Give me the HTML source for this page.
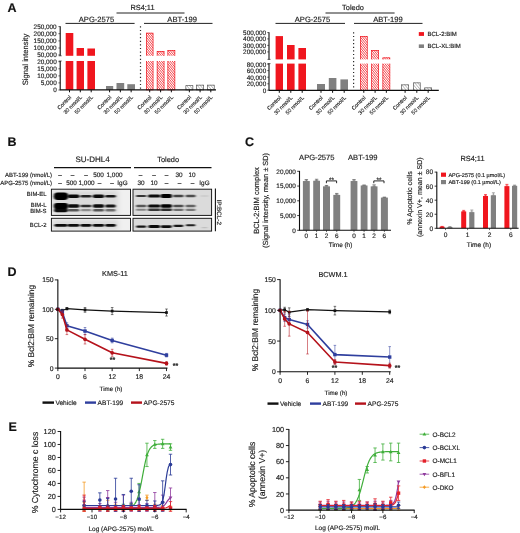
<!DOCTYPE html>
<html lang="en">
<head>
<meta charset="utf-8">
<title>Figure: APG-2575 disrupts BCL-2:BIM complexes</title>
<style>
html,body{margin:0;padding:0;background:#fff;}
body{width:520px;height:533px;overflow:hidden;}
svg{display:block;text-rendering:geometricPrecision;}
text{stroke:#222;stroke-width:0.16px;font-family:"Liberation Sans",Arial,Helvetica,sans-serif;}
</style>
</head>
<body>
<svg width="520" height="533" viewBox="0 0 520 533">
<defs>
<pattern id="hr" width="1.42" height="4" patternUnits="userSpaceOnUse" patternTransform="rotate(-40)">
  <rect width="1.42" height="4" fill="#fff"/><rect width="0.8" height="4" fill="#e8202a"/>
</pattern>
<pattern id="hg" width="1.9" height="4" patternUnits="userSpaceOnUse" patternTransform="rotate(-40)">
  <rect width="1.9" height="4" fill="#fff"/><rect width="0.45" height="4" fill="#777"/>
</pattern>
<filter id="b1" x="-20%" y="-80%" width="140%" height="260%"><feGaussianBlur stdDeviation="0.9 0.55"/></filter>
<filter id="b3" x="-20%" y="-50%" width="140%" height="200%"><feGaussianBlur stdDeviation="2.5 1.5"/></filter>
<filter id="b2" x="-20%" y="-80%" width="140%" height="260%"><feGaussianBlur stdDeviation="0.7 0.45"/></filter>
</defs>
<rect width="520" height="533" fill="#fff"/>
<text x="7.50" y="11.60" font-size="12.5" text-anchor="start" font-weight="bold" fill="#111">A</text>
<text x="142.50" y="9.96" font-size="7.4" text-anchor="middle" font-weight="normal" fill="#222">RS4;11</text>
<line x1="116.50" y1="13.00" x2="184.50" y2="13.00" stroke="#222" stroke-width="1.0"/>
<text x="96.50" y="21.74" font-size="7.6" text-anchor="middle" font-weight="normal" fill="#222">APG-2575</text>
<line x1="65.50" y1="23.40" x2="134.60" y2="23.40" stroke="#222" stroke-width="1.0"/>
<text x="182.10" y="21.74" font-size="7.6" text-anchor="middle" font-weight="normal" fill="#222">ABT-199</text>
<line x1="144.00" y1="23.40" x2="212.50" y2="23.40" stroke="#222" stroke-width="1.0"/>
<rect x="65.70" y="33.00" width="7.60" height="56.90" fill="#f0161e" stroke="none" stroke-width="0.6"/>
<rect x="76.60" y="48.00" width="7.40" height="41.90" fill="#f0161e" stroke="none" stroke-width="0.6"/>
<rect x="87.40" y="48.50" width="7.60" height="41.40" fill="#f0161e" stroke="none" stroke-width="0.6"/>
<rect x="106.00" y="86.00" width="7.20" height="3.90" fill="#808080" stroke="none" stroke-width="0.6"/>
<rect x="116.50" y="83.00" width="7.70" height="6.90" fill="#808080" stroke="none" stroke-width="0.6"/>
<rect x="127.30" y="84.20" width="7.70" height="5.70" fill="#808080" stroke="none" stroke-width="0.6"/>
<clipPath id="hc1"><rect x="146.00" y="32.80" width="7.40" height="57.10"/></clipPath>
<path d="M146.00 23.33L153.40 32.40M146.00 26.03L153.40 35.10M146.00 28.73L153.40 37.80M146.00 31.43L153.40 40.50M146.00 34.13L153.40 43.20M146.00 36.83L153.40 45.90M146.00 39.53L153.40 48.60M146.00 42.23L153.40 51.30M146.00 44.93L153.40 54.00M146.00 47.63L153.40 56.70M146.00 50.33L153.40 59.40M146.00 53.03L153.40 62.10M146.00 55.73L153.40 64.80M146.00 58.43L153.40 67.50M146.00 61.13L153.40 70.20M146.00 63.83L153.40 72.90M146.00 66.53L153.40 75.60M146.00 69.23L153.40 78.30M146.00 71.93L153.40 81.00M146.00 74.63L153.40 83.70M146.00 77.33L153.40 86.40M146.00 80.03L153.40 89.10M146.00 82.73L153.40 91.80M146.00 85.43L153.40 94.50M146.00 88.13L153.40 97.20" stroke="#f0161e" stroke-width="0.8" fill="none" clip-path="url(#hc1)"/>
<rect x="146.35" y="33.15" width="6.70" height="56.75" fill="none" stroke="#f0161e" stroke-width="0.7"/>
<clipPath id="hc2"><rect x="156.80" y="51.00" width="7.60" height="38.90"/></clipPath>
<path d="M156.80 39.28L164.40 48.60M156.80 41.98L164.40 51.30M156.80 44.68L164.40 54.00M156.80 47.38L164.40 56.70M156.80 50.08L164.40 59.40M156.80 52.78L164.40 62.10M156.80 55.48L164.40 64.80M156.80 58.18L164.40 67.50M156.80 60.88L164.40 70.20M156.80 63.58L164.40 72.90M156.80 66.28L164.40 75.60M156.80 68.98L164.40 78.30M156.80 71.68L164.40 81.00M156.80 74.38L164.40 83.70M156.80 77.08L164.40 86.40M156.80 79.78L164.40 89.10M156.80 82.48L164.40 91.80M156.80 85.18L164.40 94.50M156.80 87.88L164.40 97.20" stroke="#f0161e" stroke-width="0.8" fill="none" clip-path="url(#hc2)"/>
<rect x="157.15" y="51.35" width="6.90" height="38.55" fill="none" stroke="#f0161e" stroke-width="0.7"/>
<clipPath id="hc3"><rect x="167.50" y="50.00" width="7.70" height="39.90"/></clipPath>
<path d="M167.50 39.16L175.20 48.60M167.50 41.86L175.20 51.30M167.50 44.56L175.20 54.00M167.50 47.26L175.20 56.70M167.50 49.96L175.20 59.40M167.50 52.66L175.20 62.10M167.50 55.36L175.20 64.80M167.50 58.06L175.20 67.50M167.50 60.76L175.20 70.20M167.50 63.46L175.20 72.90M167.50 66.16L175.20 75.60M167.50 68.86L175.20 78.30M167.50 71.56L175.20 81.00M167.50 74.26L175.20 83.70M167.50 76.96L175.20 86.40M167.50 79.66L175.20 89.10M167.50 82.36L175.20 91.80M167.50 85.06L175.20 94.50M167.50 87.76L175.20 97.20" stroke="#f0161e" stroke-width="0.8" fill="none" clip-path="url(#hc3)"/>
<rect x="167.85" y="50.35" width="7.00" height="39.55" fill="none" stroke="#f0161e" stroke-width="0.7"/>
<clipPath id="hc4"><rect x="185.50" y="85.30" width="7.70" height="4.60"/></clipPath>
<path d="M185.50 73.36L193.20 82.80M185.50 76.96L193.20 86.40M185.50 80.56L193.20 90.00M185.50 84.16L193.20 93.60M185.50 87.76L193.20 97.20" stroke="#6a6a6a" stroke-width="0.5" fill="none" clip-path="url(#hc4)"/>
<rect x="185.85" y="85.65" width="7.00" height="4.25" fill="none" stroke="#5a5a5a" stroke-width="0.7"/>
<clipPath id="hc5"><rect x="196.20" y="84.80" width="7.80" height="5.10"/></clipPath>
<path d="M196.20 73.24L204.00 82.80M196.20 76.84L204.00 86.40M196.20 80.44L204.00 90.00M196.20 84.04L204.00 93.60M196.20 87.64L204.00 97.20" stroke="#6a6a6a" stroke-width="0.5" fill="none" clip-path="url(#hc5)"/>
<rect x="196.55" y="85.15" width="7.10" height="4.75" fill="none" stroke="#5a5a5a" stroke-width="0.7"/>
<clipPath id="hc6"><rect x="207.00" y="84.80" width="7.60" height="5.10"/></clipPath>
<path d="M207.00 73.48L214.60 82.80M207.00 77.08L214.60 86.40M207.00 80.68L214.60 90.00M207.00 84.28L214.60 93.60M207.00 87.88L214.60 97.20" stroke="#6a6a6a" stroke-width="0.5" fill="none" clip-path="url(#hc6)"/>
<rect x="207.35" y="85.15" width="6.90" height="4.75" fill="none" stroke="#5a5a5a" stroke-width="0.7"/>
<rect x="58.20" y="55.80" width="159.80" height="5.20" fill="#fff" stroke="none" stroke-width="0.6"/>
<line x1="60.20" y1="26.20" x2="60.20" y2="55.80" stroke="#0d0d0d" stroke-width="1.1"/>
<line x1="60.20" y1="61.00" x2="60.20" y2="90.30" stroke="#0d0d0d" stroke-width="1.1"/>
<line x1="58.70" y1="55.80" x2="61.70" y2="55.80" stroke="#0d0d0d" stroke-width="0.6"/>
<line x1="58.70" y1="61.00" x2="61.70" y2="61.00" stroke="#0d0d0d" stroke-width="0.6"/>
<line x1="60.20" y1="89.90" x2="216.00" y2="89.90" stroke="#0d0d0d" stroke-width="1.1"/>
<line x1="58.40" y1="26.60" x2="60.20" y2="26.60" stroke="#0d0d0d" stroke-width="0.6"/>
<text x="56.70" y="28.90" font-size="6.4" text-anchor="end" font-weight="normal" fill="#222">250,000</text>
<line x1="58.40" y1="33.70" x2="60.20" y2="33.70" stroke="#0d0d0d" stroke-width="0.6"/>
<text x="56.70" y="36.00" font-size="6.4" text-anchor="end" font-weight="normal" fill="#222">200,000</text>
<line x1="58.40" y1="40.90" x2="60.20" y2="40.90" stroke="#0d0d0d" stroke-width="0.6"/>
<text x="56.70" y="43.20" font-size="6.4" text-anchor="end" font-weight="normal" fill="#222">150,000</text>
<line x1="58.40" y1="48.00" x2="60.20" y2="48.00" stroke="#0d0d0d" stroke-width="0.6"/>
<text x="56.70" y="50.30" font-size="6.4" text-anchor="end" font-weight="normal" fill="#222">100,000</text>
<line x1="58.40" y1="54.90" x2="60.20" y2="54.90" stroke="#0d0d0d" stroke-width="0.6"/>
<text x="56.70" y="57.20" font-size="6.4" text-anchor="end" font-weight="normal" fill="#222">50,000</text>
<line x1="58.40" y1="61.70" x2="60.20" y2="61.70" stroke="#0d0d0d" stroke-width="0.6"/>
<text x="56.70" y="64.00" font-size="6.4" text-anchor="end" font-weight="normal" fill="#222">20,000</text>
<line x1="58.40" y1="68.80" x2="60.20" y2="68.80" stroke="#0d0d0d" stroke-width="0.6"/>
<text x="56.70" y="71.10" font-size="6.4" text-anchor="end" font-weight="normal" fill="#222">15,000</text>
<line x1="58.40" y1="75.90" x2="60.20" y2="75.90" stroke="#0d0d0d" stroke-width="0.6"/>
<text x="56.70" y="78.20" font-size="6.4" text-anchor="end" font-weight="normal" fill="#222">10,000</text>
<line x1="58.40" y1="82.90" x2="60.20" y2="82.90" stroke="#0d0d0d" stroke-width="0.6"/>
<text x="56.70" y="85.20" font-size="6.4" text-anchor="end" font-weight="normal" fill="#222">5,000</text>
<line x1="58.40" y1="90.00" x2="60.20" y2="90.00" stroke="#0d0d0d" stroke-width="0.6"/>
<text x="56.70" y="92.30" font-size="6.4" text-anchor="end" font-weight="normal" fill="#222">0</text>
<line x1="140.50" y1="26.30" x2="140.50" y2="89.00" stroke="#2a2a2a" stroke-width="1.2" stroke-dasharray="1.2 2.4"/>
<line x1="69.50" y1="89.90" x2="69.50" y2="92.30" stroke="#0d0d0d" stroke-width="1.0"/>
<text x="71.70" y="97.70" font-size="5.4" text-anchor="end" font-weight="normal" fill="#222" transform="rotate(-45 71.70 97.70)">Control</text>
<line x1="80.30" y1="89.90" x2="80.30" y2="92.30" stroke="#0d0d0d" stroke-width="1.0"/>
<text x="82.50" y="97.70" font-size="5.4" text-anchor="end" font-weight="normal" fill="#222" transform="rotate(-45 82.50 97.70)">30 nmol/L</text>
<line x1="91.20" y1="89.90" x2="91.20" y2="92.30" stroke="#0d0d0d" stroke-width="1.0"/>
<text x="93.40" y="97.70" font-size="5.4" text-anchor="end" font-weight="normal" fill="#222" transform="rotate(-45 93.40 97.70)">50 nmol/L</text>
<line x1="109.60" y1="89.90" x2="109.60" y2="92.30" stroke="#0d0d0d" stroke-width="1.0"/>
<text x="111.80" y="97.70" font-size="5.4" text-anchor="end" font-weight="normal" fill="#222" transform="rotate(-45 111.80 97.70)">Control</text>
<line x1="120.35" y1="89.90" x2="120.35" y2="92.30" stroke="#0d0d0d" stroke-width="1.0"/>
<text x="122.55" y="97.70" font-size="5.4" text-anchor="end" font-weight="normal" fill="#222" transform="rotate(-45 122.55 97.70)">30 nmol/L</text>
<line x1="131.15" y1="89.90" x2="131.15" y2="92.30" stroke="#0d0d0d" stroke-width="1.0"/>
<text x="133.35" y="97.70" font-size="5.4" text-anchor="end" font-weight="normal" fill="#222" transform="rotate(-45 133.35 97.70)">50 nmol/L</text>
<line x1="149.70" y1="89.90" x2="149.70" y2="92.30" stroke="#0d0d0d" stroke-width="1.0"/>
<text x="151.90" y="97.70" font-size="5.4" text-anchor="end" font-weight="normal" fill="#222" transform="rotate(-45 151.90 97.70)">Control</text>
<line x1="160.60" y1="89.90" x2="160.60" y2="92.30" stroke="#0d0d0d" stroke-width="1.0"/>
<text x="162.80" y="97.70" font-size="5.4" text-anchor="end" font-weight="normal" fill="#222" transform="rotate(-45 162.80 97.70)">30 nmol/L</text>
<line x1="171.35" y1="89.90" x2="171.35" y2="92.30" stroke="#0d0d0d" stroke-width="1.0"/>
<text x="173.55" y="97.70" font-size="5.4" text-anchor="end" font-weight="normal" fill="#222" transform="rotate(-45 173.55 97.70)">50 nmol/L</text>
<line x1="189.35" y1="89.90" x2="189.35" y2="92.30" stroke="#0d0d0d" stroke-width="1.0"/>
<text x="191.55" y="97.70" font-size="5.4" text-anchor="end" font-weight="normal" fill="#222" transform="rotate(-45 191.55 97.70)">Control</text>
<line x1="200.10" y1="89.90" x2="200.10" y2="92.30" stroke="#0d0d0d" stroke-width="1.0"/>
<text x="202.30" y="97.70" font-size="5.4" text-anchor="end" font-weight="normal" fill="#222" transform="rotate(-45 202.30 97.70)">30 nmol/L</text>
<line x1="210.80" y1="89.90" x2="210.80" y2="92.30" stroke="#0d0d0d" stroke-width="1.0"/>
<text x="213.00" y="97.70" font-size="5.4" text-anchor="end" font-weight="normal" fill="#222" transform="rotate(-45 213.00 97.70)">50 nmol/L</text>
<text x="27.50" y="59.50" font-size="7.7" text-anchor="middle" font-weight="normal" fill="#222" transform="rotate(-90 27.50 59.50)">Signal intensity</text>
<text x="353.00" y="9.96" font-size="7.4" text-anchor="middle" font-weight="normal" fill="#222">Toledo</text>
<line x1="325.50" y1="13.00" x2="394.60" y2="13.00" stroke="#222" stroke-width="1.0"/>
<text x="312.50" y="21.74" font-size="7.6" text-anchor="middle" font-weight="normal" fill="#222">APG-2575</text>
<line x1="275.50" y1="23.40" x2="345.00" y2="23.40" stroke="#222" stroke-width="1.0"/>
<text x="388.00" y="21.74" font-size="7.6" text-anchor="middle" font-weight="normal" fill="#222">ABT-199</text>
<line x1="354.00" y1="23.40" x2="422.50" y2="23.40" stroke="#222" stroke-width="1.0"/>
<rect x="275.60" y="36.10" width="7.40" height="54.30" fill="#f0161e" stroke="none" stroke-width="0.6"/>
<rect x="287.00" y="45.00" width="7.60" height="45.40" fill="#f0161e" stroke="none" stroke-width="0.6"/>
<rect x="298.40" y="48.00" width="7.60" height="42.40" fill="#f0161e" stroke="none" stroke-width="0.6"/>
<rect x="317.00" y="84.00" width="8.00" height="6.40" fill="#808080" stroke="none" stroke-width="0.6"/>
<rect x="328.80" y="78.00" width="7.60" height="12.40" fill="#808080" stroke="none" stroke-width="0.6"/>
<rect x="340.40" y="79.40" width="7.60" height="11.00" fill="#808080" stroke="none" stroke-width="0.6"/>
<clipPath id="hc7"><rect x="360.00" y="36.00" width="7.60" height="54.40"/></clipPath>
<path d="M360.00 25.78L367.60 35.10M360.00 28.48L367.60 37.80M360.00 31.18L367.60 40.50M360.00 33.88L367.60 43.20M360.00 36.58L367.60 45.90M360.00 39.28L367.60 48.60M360.00 41.98L367.60 51.30M360.00 44.68L367.60 54.00M360.00 47.38L367.60 56.70M360.00 50.08L367.60 59.40M360.00 52.78L367.60 62.10M360.00 55.48L367.60 64.80M360.00 58.18L367.60 67.50M360.00 60.88L367.60 70.20M360.00 63.58L367.60 72.90M360.00 66.28L367.60 75.60M360.00 68.98L367.60 78.30M360.00 71.68L367.60 81.00M360.00 74.38L367.60 83.70M360.00 77.08L367.60 86.40M360.00 79.78L367.60 89.10M360.00 82.48L367.60 91.80M360.00 85.18L367.60 94.50M360.00 87.88L367.60 97.20" stroke="#f0161e" stroke-width="0.8" fill="none" clip-path="url(#hc7)"/>
<rect x="360.35" y="36.35" width="6.90" height="54.05" fill="none" stroke="#f0161e" stroke-width="0.7"/>
<clipPath id="hc8"><rect x="371.20" y="50.00" width="7.80" height="40.40"/></clipPath>
<path d="M371.20 39.04L379.00 48.60M371.20 41.74L379.00 51.30M371.20 44.44L379.00 54.00M371.20 47.14L379.00 56.70M371.20 49.84L379.00 59.40M371.20 52.54L379.00 62.10M371.20 55.24L379.00 64.80M371.20 57.94L379.00 67.50M371.20 60.64L379.00 70.20M371.20 63.34L379.00 72.90M371.20 66.04L379.00 75.60M371.20 68.74L379.00 78.30M371.20 71.44L379.00 81.00M371.20 74.14L379.00 83.70M371.20 76.84L379.00 86.40M371.20 79.54L379.00 89.10M371.20 82.24L379.00 91.80M371.20 84.94L379.00 94.50M371.20 87.64L379.00 97.20M371.20 90.34L379.00 99.90" stroke="#f0161e" stroke-width="0.8" fill="none" clip-path="url(#hc8)"/>
<rect x="371.55" y="50.35" width="7.10" height="40.05" fill="none" stroke="#f0161e" stroke-width="0.7"/>
<clipPath id="hc9"><rect x="382.50" y="57.50" width="7.70" height="32.90"/></clipPath>
<path d="M382.50 47.26L390.20 56.70M382.50 49.96L390.20 59.40M382.50 52.66L390.20 62.10M382.50 55.36L390.20 64.80M382.50 58.06L390.20 67.50M382.50 60.76L390.20 70.20M382.50 63.46L390.20 72.90M382.50 66.16L390.20 75.60M382.50 68.86L390.20 78.30M382.50 71.56L390.20 81.00M382.50 74.26L390.20 83.70M382.50 76.96L390.20 86.40M382.50 79.66L390.20 89.10M382.50 82.36L390.20 91.80M382.50 85.06L390.20 94.50M382.50 87.76L390.20 97.20" stroke="#f0161e" stroke-width="0.8" fill="none" clip-path="url(#hc9)"/>
<rect x="382.85" y="57.85" width="7.00" height="32.55" fill="none" stroke="#f0161e" stroke-width="0.7"/>
<clipPath id="hc10"><rect x="401.20" y="84.50" width="7.80" height="5.90"/></clipPath>
<path d="M401.20 73.24L409.00 82.80M401.20 76.84L409.00 86.40M401.20 80.44L409.00 90.00M401.20 84.04L409.00 93.60M401.20 87.64L409.00 97.20" stroke="#6a6a6a" stroke-width="0.5" fill="none" clip-path="url(#hc10)"/>
<rect x="401.55" y="84.85" width="7.10" height="5.55" fill="none" stroke="#5a5a5a" stroke-width="0.7"/>
<clipPath id="hc11"><rect x="413.00" y="82.50" width="7.60" height="7.90"/></clipPath>
<path d="M413.00 69.88L420.60 79.20M413.00 73.48L420.60 82.80M413.00 77.08L420.60 86.40M413.00 80.68L420.60 90.00M413.00 84.28L420.60 93.60M413.00 87.88L420.60 97.20" stroke="#6a6a6a" stroke-width="0.5" fill="none" clip-path="url(#hc11)"/>
<rect x="413.35" y="82.85" width="6.90" height="7.55" fill="none" stroke="#5a5a5a" stroke-width="0.7"/>
<clipPath id="hc12"><rect x="424.30" y="87.50" width="7.70" height="2.90"/></clipPath>
<path d="M424.30 76.96L432.00 86.40M424.30 80.56L432.00 90.00M424.30 84.16L432.00 93.60M424.30 87.76L432.00 97.20" stroke="#6a6a6a" stroke-width="0.5" fill="none" clip-path="url(#hc12)"/>
<rect x="424.65" y="87.85" width="7.00" height="2.55" fill="none" stroke="#5a5a5a" stroke-width="0.7"/>
<rect x="267.00" y="59.40" width="173.80" height="4.20" fill="#fff" stroke="none" stroke-width="0.6"/>
<line x1="269.00" y1="32.20" x2="269.00" y2="59.40" stroke="#0d0d0d" stroke-width="1.1"/>
<line x1="269.00" y1="63.60" x2="269.00" y2="90.80" stroke="#0d0d0d" stroke-width="1.1"/>
<line x1="267.50" y1="59.40" x2="270.50" y2="59.40" stroke="#0d0d0d" stroke-width="0.6"/>
<line x1="267.50" y1="63.60" x2="270.50" y2="63.60" stroke="#0d0d0d" stroke-width="0.6"/>
<line x1="269.00" y1="90.40" x2="438.80" y2="90.40" stroke="#0d0d0d" stroke-width="1.1"/>
<line x1="267.20" y1="32.60" x2="269.00" y2="32.60" stroke="#0d0d0d" stroke-width="0.6"/>
<text x="266.20" y="34.90" font-size="6.4" text-anchor="end" font-weight="normal" fill="#222">500,000</text>
<line x1="267.20" y1="38.90" x2="269.00" y2="38.90" stroke="#0d0d0d" stroke-width="0.6"/>
<text x="266.20" y="41.20" font-size="6.4" text-anchor="end" font-weight="normal" fill="#222">400,000</text>
<line x1="267.20" y1="45.40" x2="269.00" y2="45.40" stroke="#0d0d0d" stroke-width="0.6"/>
<text x="266.20" y="47.70" font-size="6.4" text-anchor="end" font-weight="normal" fill="#222">300,000</text>
<line x1="267.20" y1="51.90" x2="269.00" y2="51.90" stroke="#0d0d0d" stroke-width="0.6"/>
<text x="266.20" y="54.20" font-size="6.4" text-anchor="end" font-weight="normal" fill="#222">200,000</text>
<line x1="267.20" y1="64.20" x2="269.00" y2="64.20" stroke="#0d0d0d" stroke-width="0.6"/>
<text x="266.20" y="66.50" font-size="6.4" text-anchor="end" font-weight="normal" fill="#222">80,000</text>
<line x1="267.20" y1="70.60" x2="269.00" y2="70.60" stroke="#0d0d0d" stroke-width="0.6"/>
<text x="266.20" y="72.90" font-size="6.4" text-anchor="end" font-weight="normal" fill="#222">60,000</text>
<line x1="267.20" y1="77.20" x2="269.00" y2="77.20" stroke="#0d0d0d" stroke-width="0.6"/>
<text x="266.20" y="79.50" font-size="6.4" text-anchor="end" font-weight="normal" fill="#222">40,000</text>
<line x1="267.20" y1="83.80" x2="269.00" y2="83.80" stroke="#0d0d0d" stroke-width="0.6"/>
<text x="266.20" y="86.10" font-size="6.4" text-anchor="end" font-weight="normal" fill="#222">20,000</text>
<line x1="267.20" y1="90.20" x2="269.00" y2="90.20" stroke="#0d0d0d" stroke-width="0.6"/>
<text x="266.20" y="92.50" font-size="6.4" text-anchor="end" font-weight="normal" fill="#222">0</text>
<line x1="353.60" y1="32.30" x2="353.60" y2="89.00" stroke="#2a2a2a" stroke-width="1.2" stroke-dasharray="1.2 2.4"/>
<line x1="279.30" y1="90.40" x2="279.30" y2="92.80" stroke="#0d0d0d" stroke-width="1.0"/>
<text x="281.50" y="98.20" font-size="5.4" text-anchor="end" font-weight="normal" fill="#222" transform="rotate(-45 281.50 98.20)">Control</text>
<line x1="290.80" y1="90.40" x2="290.80" y2="92.80" stroke="#0d0d0d" stroke-width="1.0"/>
<text x="293.00" y="98.20" font-size="5.4" text-anchor="end" font-weight="normal" fill="#222" transform="rotate(-45 293.00 98.20)">30 nmol/L</text>
<line x1="302.20" y1="90.40" x2="302.20" y2="92.80" stroke="#0d0d0d" stroke-width="1.0"/>
<text x="304.40" y="98.20" font-size="5.4" text-anchor="end" font-weight="normal" fill="#222" transform="rotate(-45 304.40 98.20)">50 nmol/L</text>
<line x1="321.00" y1="90.40" x2="321.00" y2="92.80" stroke="#0d0d0d" stroke-width="1.0"/>
<text x="323.20" y="98.20" font-size="5.4" text-anchor="end" font-weight="normal" fill="#222" transform="rotate(-45 323.20 98.20)">Control</text>
<line x1="332.60" y1="90.40" x2="332.60" y2="92.80" stroke="#0d0d0d" stroke-width="1.0"/>
<text x="334.80" y="98.20" font-size="5.4" text-anchor="end" font-weight="normal" fill="#222" transform="rotate(-45 334.80 98.20)">30 nmol/L</text>
<line x1="344.20" y1="90.40" x2="344.20" y2="92.80" stroke="#0d0d0d" stroke-width="1.0"/>
<text x="346.40" y="98.20" font-size="5.4" text-anchor="end" font-weight="normal" fill="#222" transform="rotate(-45 346.40 98.20)">50 nmol/L</text>
<line x1="363.80" y1="90.40" x2="363.80" y2="92.80" stroke="#0d0d0d" stroke-width="1.0"/>
<text x="366.00" y="98.20" font-size="5.4" text-anchor="end" font-weight="normal" fill="#222" transform="rotate(-45 366.00 98.20)">Control</text>
<line x1="375.10" y1="90.40" x2="375.10" y2="92.80" stroke="#0d0d0d" stroke-width="1.0"/>
<text x="377.30" y="98.20" font-size="5.4" text-anchor="end" font-weight="normal" fill="#222" transform="rotate(-45 377.30 98.20)">30 nmol/L</text>
<line x1="386.35" y1="90.40" x2="386.35" y2="92.80" stroke="#0d0d0d" stroke-width="1.0"/>
<text x="388.55" y="98.20" font-size="5.4" text-anchor="end" font-weight="normal" fill="#222" transform="rotate(-45 388.55 98.20)">50 nmol/L</text>
<line x1="405.10" y1="90.40" x2="405.10" y2="92.80" stroke="#0d0d0d" stroke-width="1.0"/>
<text x="407.30" y="98.20" font-size="5.4" text-anchor="end" font-weight="normal" fill="#222" transform="rotate(-45 407.30 98.20)">Control</text>
<line x1="416.80" y1="90.40" x2="416.80" y2="92.80" stroke="#0d0d0d" stroke-width="1.0"/>
<text x="419.00" y="98.20" font-size="5.4" text-anchor="end" font-weight="normal" fill="#222" transform="rotate(-45 419.00 98.20)">30 nmol/L</text>
<line x1="428.15" y1="90.40" x2="428.15" y2="92.80" stroke="#0d0d0d" stroke-width="1.0"/>
<text x="430.35" y="98.20" font-size="5.4" text-anchor="end" font-weight="normal" fill="#222" transform="rotate(-45 430.35 98.20)">50 nmol/L</text>
<rect x="418.80" y="32.10" width="5.20" height="3.80" fill="#f0161e" stroke="none" stroke-width="0.6"/>
<text x="427.50" y="35.86" font-size="6.0" text-anchor="start" font-weight="normal" fill="#222">BCL-2:BIM</text>
<rect x="418.80" y="44.40" width="5.20" height="3.60" fill="#808080" stroke="none" stroke-width="0.6"/>
<text x="427.50" y="48.06" font-size="6.0" text-anchor="start" font-weight="normal" fill="#222">BCL-XL:BIM</text>
<text x="7.50" y="146.30" font-size="12.5" text-anchor="start" font-weight="bold" fill="#111">B</text>
<text x="92.50" y="162.28" font-size="8.0" text-anchor="middle" font-weight="normal" fill="#222">SU-DHL4</text>
<line x1="54.00" y1="167.60" x2="131.00" y2="167.60" stroke="#111" stroke-width="1.1"/>
<text x="168.20" y="162.26" font-size="7.4" text-anchor="middle" font-weight="normal" fill="#222">Toledo</text>
<line x1="134.00" y1="167.60" x2="211.50" y2="167.60" stroke="#111" stroke-width="1.1"/>
<text x="52.00" y="176.96" font-size="6.0" text-anchor="end" font-weight="normal" fill="#222">ABT-199 (nmol/L)</text>
<text x="52.00" y="184.66" font-size="6.0" text-anchor="end" font-weight="normal" fill="#222">APG-2575 (nmol/L)</text>
<text x="60.00" y="176.90" font-size="6.4" text-anchor="middle" font-weight="normal" fill="#222">–</text>
<text x="72.50" y="176.90" font-size="6.4" text-anchor="middle" font-weight="normal" fill="#222">–</text>
<text x="86.00" y="176.90" font-size="6.4" text-anchor="middle" font-weight="normal" fill="#222">–</text>
<text x="98.50" y="176.90" font-size="6.4" text-anchor="middle" font-weight="normal" fill="#222">500</text>
<text x="114.50" y="176.90" font-size="6.4" text-anchor="middle" font-weight="normal" fill="#222">1,000</text>
<text x="60.00" y="184.50" font-size="6.4" text-anchor="middle" font-weight="normal" fill="#222">–</text>
<text x="71.50" y="184.50" font-size="6.4" text-anchor="middle" font-weight="normal" fill="#222">500</text>
<text x="86.50" y="184.50" font-size="6.4" text-anchor="middle" font-weight="normal" fill="#222">1,000</text>
<text x="99.50" y="184.50" font-size="6.4" text-anchor="middle" font-weight="normal" fill="#222">–</text>
<text x="112.00" y="184.50" font-size="6.4" text-anchor="middle" font-weight="normal" fill="#222">–</text>
<text x="122.50" y="184.50" font-size="6.4" text-anchor="middle" font-weight="normal" fill="#222">IgG</text>
<text x="140.50" y="176.90" font-size="6.4" text-anchor="middle" font-weight="normal" fill="#222">–</text>
<text x="154.00" y="176.90" font-size="6.4" text-anchor="middle" font-weight="normal" fill="#222">–</text>
<text x="166.50" y="176.90" font-size="6.4" text-anchor="middle" font-weight="normal" fill="#222">–</text>
<text x="179.00" y="176.90" font-size="6.4" text-anchor="middle" font-weight="normal" fill="#222">30</text>
<text x="192.00" y="176.90" font-size="6.4" text-anchor="middle" font-weight="normal" fill="#222">10</text>
<text x="141.00" y="184.50" font-size="6.4" text-anchor="middle" font-weight="normal" fill="#222">30</text>
<text x="154.00" y="184.50" font-size="6.4" text-anchor="middle" font-weight="normal" fill="#222">10</text>
<text x="166.50" y="184.50" font-size="6.4" text-anchor="middle" font-weight="normal" fill="#222">–</text>
<text x="179.50" y="184.50" font-size="6.4" text-anchor="middle" font-weight="normal" fill="#222">–</text>
<text x="192.50" y="184.50" font-size="6.4" text-anchor="middle" font-weight="normal" fill="#222">–</text>
<text x="204.50" y="184.50" font-size="6.4" text-anchor="middle" font-weight="normal" fill="#222">IgG</text>
<text x="46.50" y="196.42" font-size="5.9" text-anchor="end" font-weight="normal" fill="#222">BIM-EL</text>
<text x="46.50" y="207.22" font-size="5.9" text-anchor="end" font-weight="normal" fill="#222">BIM-L</text>
<text x="46.50" y="213.42" font-size="5.9" text-anchor="end" font-weight="normal" fill="#222">BIM-S</text>
<text x="46.50" y="226.72" font-size="5.9" text-anchor="end" font-weight="normal" fill="#222">BCL-2</text>
<clipPath id="cb0"><rect x="51.4" y="189.2" width="79.1" height="26.2"/></clipPath>
<rect x="51.40" y="189.20" width="79.10" height="26.20" fill="#f0f0f0" stroke="none" stroke-width="0.6"/>
<rect x="52.40" y="190.70" width="66" height="23.20" fill="#000" opacity="0.09" filter="url(#b3)" clip-path="url(#cb0)"/>
<clipPath id="cb1"><rect x="51.4" y="218.3" width="79.1" height="12.8"/></clipPath>
<rect x="51.40" y="218.30" width="79.10" height="12.80" fill="#f0f0f0" stroke="none" stroke-width="0.6"/>
<rect x="52.40" y="219.80" width="66" height="9.80" fill="#000" opacity="0.09" filter="url(#b3)" clip-path="url(#cb1)"/>
<clipPath id="cb2"><rect x="133.0" y="189.2" width="78.6" height="26.2"/></clipPath>
<rect x="133.00" y="189.20" width="78.60" height="26.20" fill="#dbdbdb" stroke="none" stroke-width="0.6"/>
<clipPath id="cb3"><rect x="133.0" y="218.3" width="78.6" height="12.8"/></clipPath>
<rect x="133.00" y="218.30" width="78.60" height="12.80" fill="#dbdbdb" stroke="none" stroke-width="0.6"/>
<g clip-path="url(#cb0)">
<rect x="53.75" y="192.45" width="14.50" height="7.50" rx="3.75" fill="#000" opacity="1.0" filter="url(#b1)" clip-path="url(#cb0)"/>
<rect x="53.75" y="203.00" width="14.50" height="6.00" rx="3.00" fill="#000" opacity="1.0" filter="url(#b1)" clip-path="url(#cb0)"/>
<rect x="54.11" y="208.20" width="13.77" height="4.00" rx="2.00" fill="#000" opacity="0.95" filter="url(#b1)" clip-path="url(#cb0)"/>
</g>
<rect x="54.48" y="223.90" width="13.05" height="2.80" rx="1.40" fill="#000" opacity="0.95" filter="url(#b1)" clip-path="url(#cb1)"/>
<g clip-path="url(#cb0)">
<rect x="67.50" y="194.40" width="12.00" height="3.60" rx="1.80" fill="#000" opacity="0.95" filter="url(#b1)" clip-path="url(#cb0)"/>
<rect x="67.50" y="204.20" width="12.00" height="3.60" rx="1.80" fill="#000" opacity="0.95" filter="url(#b1)" clip-path="url(#cb0)"/>
<rect x="67.80" y="208.90" width="11.40" height="2.60" rx="1.30" fill="#000" opacity="0.6" filter="url(#b1)" clip-path="url(#cb0)"/>
</g>
<rect x="67.50" y="223.90" width="12.00" height="2.80" rx="1.40" fill="#000" opacity="0.95" filter="url(#b1)" clip-path="url(#cb1)"/>
<g clip-path="url(#cb0)">
<rect x="80.50" y="195.00" width="11.00" height="2.40" rx="1.20" fill="#000" opacity="0.85" filter="url(#b1)" clip-path="url(#cb0)"/>
<rect x="80.50" y="204.70" width="11.00" height="2.60" rx="1.30" fill="#000" opacity="0.8" filter="url(#b1)" clip-path="url(#cb0)"/>
<rect x="80.78" y="209.10" width="10.45" height="2.20" rx="1.10" fill="#000" opacity="0.35" filter="url(#b1)" clip-path="url(#cb0)"/>
</g>
<rect x="80.50" y="223.90" width="11.00" height="2.80" rx="1.40" fill="#000" opacity="0.95" filter="url(#b1)" clip-path="url(#cb1)"/>
<g clip-path="url(#cb0)">
<rect x="92.75" y="194.40" width="11.50" height="3.60" rx="1.80" fill="#000" opacity="0.95" filter="url(#b1)" clip-path="url(#cb0)"/>
<rect x="92.75" y="204.20" width="11.50" height="3.60" rx="1.80" fill="#000" opacity="0.95" filter="url(#b1)" clip-path="url(#cb0)"/>
<rect x="93.04" y="208.90" width="10.92" height="2.60" rx="1.30" fill="#000" opacity="0.6" filter="url(#b1)" clip-path="url(#cb0)"/>
</g>
<rect x="92.75" y="223.90" width="11.50" height="2.80" rx="1.40" fill="#000" opacity="0.95" filter="url(#b1)" clip-path="url(#cb1)"/>
<g clip-path="url(#cb0)">
<rect x="105.25" y="194.90" width="10.50" height="2.60" rx="1.30" fill="#000" opacity="0.9" filter="url(#b1)" clip-path="url(#cb0)"/>
<rect x="105.25" y="204.50" width="10.50" height="3.00" rx="1.50" fill="#000" opacity="0.9" filter="url(#b1)" clip-path="url(#cb0)"/>
<rect x="105.51" y="209.00" width="9.97" height="2.40" rx="1.20" fill="#000" opacity="0.5" filter="url(#b1)" clip-path="url(#cb0)"/>
</g>
<rect x="105.25" y="223.90" width="10.50" height="2.80" rx="1.40" fill="#000" opacity="0.95" filter="url(#b1)" clip-path="url(#cb1)"/>
<rect x="135.95" y="194.90" width="10.50" height="2.20" rx="1.10" fill="#000" opacity="0.75" filter="url(#b1)" clip-path="url(#cb2)"/>
<rect x="135.95" y="204.70" width="10.50" height="2.60" rx="1.30" fill="#000" opacity="0.6" filter="url(#b1)" clip-path="url(#cb2)"/>
<rect x="135.95" y="208.80" width="10.50" height="2.00" rx="1.00" fill="#000" opacity="0.4" filter="url(#b1)" clip-path="url(#cb2)"/>
<rect x="136.21" y="225.40" width="9.97" height="2.40" rx="1.20" fill="#000" opacity="0.9" filter="url(#b1)" clip-path="url(#cb3)"/>
<rect x="147.95" y="194.40" width="12.50" height="3.20" rx="1.60" fill="#000" opacity="0.95" filter="url(#b1)" clip-path="url(#cb2)"/>
<rect x="147.95" y="204.40" width="12.50" height="3.20" rx="1.60" fill="#000" opacity="0.95" filter="url(#b1)" clip-path="url(#cb2)"/>
<rect x="147.95" y="208.50" width="12.50" height="2.60" rx="1.30" fill="#000" opacity="0.75" filter="url(#b1)" clip-path="url(#cb2)"/>
<rect x="148.26" y="225.10" width="11.88" height="3.00" rx="1.50" fill="#000" opacity="0.95" filter="url(#b1)" clip-path="url(#cb3)"/>
<rect x="160.50" y="194.00" width="11.60" height="4.00" rx="2.00" fill="#000" opacity="1.0" filter="url(#b1)" clip-path="url(#cb2)"/>
<rect x="160.50" y="204.30" width="11.60" height="3.40" rx="1.70" fill="#000" opacity="1.0" filter="url(#b1)" clip-path="url(#cb2)"/>
<rect x="160.50" y="208.50" width="11.60" height="2.60" rx="1.30" fill="#000" opacity="0.8" filter="url(#b1)" clip-path="url(#cb2)"/>
<rect x="160.79" y="225.20" width="11.02" height="2.80" rx="1.40" fill="#000" opacity="0.95" filter="url(#b1)" clip-path="url(#cb3)"/>
<rect x="173.15" y="194.80" width="10.50" height="2.40" rx="1.20" fill="#000" opacity="0.7" filter="url(#b1)" clip-path="url(#cb2)"/>
<rect x="173.15" y="204.80" width="10.50" height="2.40" rx="1.20" fill="#000" opacity="0.65" filter="url(#b1)" clip-path="url(#cb2)"/>
<rect x="173.15" y="208.70" width="10.50" height="2.20" rx="1.10" fill="#000" opacity="0.5" filter="url(#b1)" clip-path="url(#cb2)"/>
<rect x="173.41" y="224.70" width="9.97" height="2.20" rx="1.10" fill="#000" opacity="0.9" filter="url(#b1)" clip-path="url(#cb3)"/>
<rect x="185.60" y="194.80" width="10.00" height="2.40" rx="1.20" fill="#000" opacity="0.65" filter="url(#b1)" clip-path="url(#cb2)"/>
<rect x="185.60" y="204.80" width="10.00" height="2.40" rx="1.20" fill="#000" opacity="0.55" filter="url(#b1)" clip-path="url(#cb2)"/>
<rect x="185.60" y="208.70" width="10.00" height="2.20" rx="1.10" fill="#000" opacity="0.45" filter="url(#b1)" clip-path="url(#cb2)"/>
<rect x="185.85" y="224.20" width="9.50" height="2.00" rx="1.00" fill="#000" opacity="0.85" filter="url(#b1)" clip-path="url(#cb3)"/>
<rect x="201.50" y="227.00" width="6.00" height="1.20" rx="0.60" fill="#000" opacity="0.12" filter="url(#b1)" clip-path="url(#cb3)"/>
<rect x="200.50" y="195.00" width="8.00" height="2.00" rx="1.00" fill="#000" opacity="0.06" filter="url(#b1)" clip-path="url(#cb2)"/>
<rect x="51.40" y="189.20" width="79.10" height="26.20" fill="none" stroke="#111" stroke-width="0.95"/>
<rect x="51.40" y="218.30" width="79.10" height="12.80" fill="none" stroke="#111" stroke-width="0.95"/>
<rect x="133.00" y="189.20" width="78.60" height="26.20" fill="none" stroke="#111" stroke-width="0.95"/>
<rect x="133.00" y="218.30" width="78.60" height="12.80" fill="none" stroke="#111" stroke-width="0.95"/>
<line x1="215.40" y1="188.60" x2="215.40" y2="231.20" stroke="#111" stroke-width="1.1"/>
<text x="217.30" y="212.20" font-size="6.3" text-anchor="middle" font-weight="normal" fill="#222" transform="rotate(90 217.30 212.20)">IP:BCL-2</text>
<text x="245.00" y="146.30" font-size="12.5" text-anchor="start" font-weight="bold" fill="#111">C</text>
<text x="316.80" y="160.34" font-size="7.6" text-anchor="middle" font-weight="normal" fill="#222">APG-2575</text>
<text x="362.80" y="160.34" font-size="7.6" text-anchor="middle" font-weight="normal" fill="#222">ABT-199</text>
<text x="258.90" y="200.50" font-size="7.5" text-anchor="middle" font-weight="normal" fill="#222" transform="rotate(-90 258.90 200.50)">BCL-2:BIM complex</text>
<text x="268.00" y="200.50" font-size="7.4" text-anchor="middle" font-weight="normal" fill="#222" transform="rotate(-90 268.00 200.50)">(Signal intensity, mean ± SD)</text>
<line x1="306.35" y1="179.56" x2="306.35" y2="181.04" stroke="#555" stroke-width="0.7"/>
<line x1="304.65" y1="179.56" x2="308.05" y2="179.56" stroke="#555" stroke-width="0.7"/>
<line x1="304.65" y1="181.04" x2="308.05" y2="181.04" stroke="#555" stroke-width="0.7"/>
<rect x="302.90" y="181.04" width="6.90" height="49.26" fill="#808080" stroke="none" stroke-width="0.6"/>
<line x1="316.60" y1="179.27" x2="316.60" y2="180.74" stroke="#555" stroke-width="0.7"/>
<line x1="314.90" y1="179.27" x2="318.30" y2="179.27" stroke="#555" stroke-width="0.7"/>
<line x1="314.90" y1="180.74" x2="318.30" y2="180.74" stroke="#555" stroke-width="0.7"/>
<rect x="313.20" y="180.74" width="6.80" height="49.56" fill="#808080" stroke="none" stroke-width="0.6"/>
<line x1="326.50" y1="185.46" x2="326.50" y2="186.35" stroke="#555" stroke-width="0.7"/>
<line x1="324.80" y1="185.46" x2="328.20" y2="185.46" stroke="#555" stroke-width="0.7"/>
<line x1="324.80" y1="186.35" x2="328.20" y2="186.35" stroke="#555" stroke-width="0.7"/>
<rect x="323.00" y="186.35" width="7.00" height="43.95" fill="#808080" stroke="none" stroke-width="0.6"/>
<line x1="336.75" y1="193.43" x2="336.75" y2="194.90" stroke="#555" stroke-width="0.7"/>
<line x1="335.05" y1="193.43" x2="338.45" y2="193.43" stroke="#555" stroke-width="0.7"/>
<line x1="335.05" y1="194.90" x2="338.45" y2="194.90" stroke="#555" stroke-width="0.7"/>
<rect x="333.30" y="194.90" width="6.90" height="35.40" fill="#808080" stroke="none" stroke-width="0.6"/>
<line x1="354.00" y1="179.56" x2="354.00" y2="181.04" stroke="#555" stroke-width="0.7"/>
<line x1="352.30" y1="179.56" x2="355.70" y2="179.56" stroke="#555" stroke-width="0.7"/>
<line x1="352.30" y1="181.04" x2="355.70" y2="181.04" stroke="#555" stroke-width="0.7"/>
<rect x="350.60" y="181.04" width="6.80" height="49.26" fill="#808080" stroke="none" stroke-width="0.6"/>
<line x1="364.10" y1="185.02" x2="364.10" y2="185.46" stroke="#555" stroke-width="0.7"/>
<line x1="362.40" y1="185.02" x2="365.80" y2="185.02" stroke="#555" stroke-width="0.7"/>
<line x1="362.40" y1="185.46" x2="365.80" y2="185.46" stroke="#555" stroke-width="0.7"/>
<rect x="360.70" y="185.46" width="6.80" height="44.84" fill="#808080" stroke="none" stroke-width="0.6"/>
<line x1="374.10" y1="184.87" x2="374.10" y2="186.35" stroke="#555" stroke-width="0.7"/>
<line x1="372.40" y1="184.87" x2="375.80" y2="184.87" stroke="#555" stroke-width="0.7"/>
<line x1="372.40" y1="186.35" x2="375.80" y2="186.35" stroke="#555" stroke-width="0.7"/>
<rect x="370.70" y="186.35" width="6.80" height="43.95" fill="#808080" stroke="none" stroke-width="0.6"/>
<line x1="384.40" y1="197.11" x2="384.40" y2="197.56" stroke="#555" stroke-width="0.7"/>
<line x1="382.70" y1="197.11" x2="386.10" y2="197.11" stroke="#555" stroke-width="0.7"/>
<line x1="382.70" y1="197.56" x2="386.10" y2="197.56" stroke="#555" stroke-width="0.7"/>
<rect x="380.90" y="197.56" width="7.00" height="32.75" fill="#808080" stroke="none" stroke-width="0.6"/>
<line x1="299.50" y1="170.90" x2="299.50" y2="230.70" stroke="#0d0d0d" stroke-width="1.1"/>
<line x1="299.50" y1="230.30" x2="391.00" y2="230.30" stroke="#0d0d0d" stroke-width="1.1"/>
<line x1="297.20" y1="171.30" x2="299.50" y2="171.30" stroke="#0d0d0d" stroke-width="0.8"/>
<text x="295.90" y="173.60" font-size="6.4" text-anchor="end" font-weight="normal" fill="#222">20,000</text>
<line x1="297.20" y1="186.05" x2="299.50" y2="186.05" stroke="#0d0d0d" stroke-width="0.8"/>
<text x="295.90" y="188.35" font-size="6.4" text-anchor="end" font-weight="normal" fill="#222">15,000</text>
<line x1="297.20" y1="200.80" x2="299.50" y2="200.80" stroke="#0d0d0d" stroke-width="0.8"/>
<text x="295.90" y="203.10" font-size="6.4" text-anchor="end" font-weight="normal" fill="#222">10,000</text>
<line x1="297.20" y1="215.55" x2="299.50" y2="215.55" stroke="#0d0d0d" stroke-width="0.8"/>
<text x="295.90" y="217.85" font-size="6.4" text-anchor="end" font-weight="normal" fill="#222">5,000</text>
<line x1="297.20" y1="230.30" x2="299.50" y2="230.30" stroke="#0d0d0d" stroke-width="0.8"/>
<text x="295.90" y="232.60" font-size="6.4" text-anchor="end" font-weight="normal" fill="#222">0</text>
<line x1="306.35" y1="230.30" x2="306.35" y2="232.10" stroke="#0d0d0d" stroke-width="0.6"/>
<text x="306.35" y="238.10" font-size="6.4" text-anchor="middle" font-weight="normal" fill="#222">0</text>
<line x1="316.60" y1="230.30" x2="316.60" y2="232.10" stroke="#0d0d0d" stroke-width="0.6"/>
<text x="316.60" y="238.10" font-size="6.4" text-anchor="middle" font-weight="normal" fill="#222">1</text>
<line x1="326.50" y1="230.30" x2="326.50" y2="232.10" stroke="#0d0d0d" stroke-width="0.6"/>
<text x="326.50" y="238.10" font-size="6.4" text-anchor="middle" font-weight="normal" fill="#222">2</text>
<line x1="336.75" y1="230.30" x2="336.75" y2="232.10" stroke="#0d0d0d" stroke-width="0.6"/>
<text x="336.75" y="238.10" font-size="6.4" text-anchor="middle" font-weight="normal" fill="#222">6</text>
<line x1="354.00" y1="230.30" x2="354.00" y2="232.10" stroke="#0d0d0d" stroke-width="0.6"/>
<text x="354.00" y="238.10" font-size="6.4" text-anchor="middle" font-weight="normal" fill="#222">0</text>
<line x1="364.10" y1="230.30" x2="364.10" y2="232.10" stroke="#0d0d0d" stroke-width="0.6"/>
<text x="364.10" y="238.10" font-size="6.4" text-anchor="middle" font-weight="normal" fill="#222">1</text>
<line x1="374.10" y1="230.30" x2="374.10" y2="232.10" stroke="#0d0d0d" stroke-width="0.6"/>
<text x="374.10" y="238.10" font-size="6.4" text-anchor="middle" font-weight="normal" fill="#222">2</text>
<line x1="384.40" y1="230.30" x2="384.40" y2="232.10" stroke="#0d0d0d" stroke-width="0.6"/>
<text x="384.40" y="238.10" font-size="6.4" text-anchor="middle" font-weight="normal" fill="#222">6</text>
<text x="340.50" y="246.50" font-size="6.4" text-anchor="middle" font-weight="normal" fill="#222">Time (h)</text>
<polyline points="326.40,183.20 326.40,180.90 336.60,180.90 336.60,183.20" fill="none" stroke="#111" stroke-width="0.9" stroke-linejoin="round"/>
<text x="331.50" y="181.60" font-size="6.4" text-anchor="middle" font-weight="normal" fill="#222">**</text>
<polyline points="373.80,183.20 373.80,180.90 384.00,180.90 384.00,183.20" fill="none" stroke="#111" stroke-width="0.9" stroke-linejoin="round"/>
<text x="378.90" y="181.60" font-size="6.4" text-anchor="middle" font-weight="normal" fill="#222">**</text>
<text x="472.50" y="160.86" font-size="7.4" text-anchor="middle" font-weight="normal" fill="#222">RS4;11</text>
<text x="412.00" y="198.00" font-size="7.1" text-anchor="middle" font-weight="normal" fill="#222" transform="rotate(-90 412.00 198.00)">% Apoptotic cells</text>
<text x="422.30" y="197.20" font-size="7.1" text-anchor="middle" font-weight="normal" fill="#222" transform="rotate(-90 422.30 197.20)">(annexin V+, mean ± SD)</text>
<line x1="442.10" y1="226.40" x2="442.10" y2="226.75" stroke="#f0161e" stroke-width="0.7"/>
<line x1="440.60" y1="226.40" x2="443.60" y2="226.40" stroke="#f0161e" stroke-width="0.7"/>
<line x1="440.60" y1="226.75" x2="443.60" y2="226.75" stroke="#f0161e" stroke-width="0.7"/>
<rect x="439.60" y="226.75" width="5.00" height="1.55" fill="#f0161e" stroke="none" stroke-width="0.6"/>
<line x1="449.90" y1="226.68" x2="449.90" y2="227.04" stroke="#808080" stroke-width="0.7"/>
<line x1="448.40" y1="226.68" x2="451.40" y2="226.68" stroke="#808080" stroke-width="0.7"/>
<line x1="448.40" y1="227.04" x2="451.40" y2="227.04" stroke="#808080" stroke-width="0.7"/>
<rect x="447.40" y="227.04" width="5.00" height="1.26" fill="#808080" stroke="none" stroke-width="0.6"/>
<line x1="463.70" y1="210.39" x2="463.70" y2="211.44" stroke="#f0161e" stroke-width="0.7"/>
<line x1="462.20" y1="210.39" x2="465.20" y2="210.39" stroke="#f0161e" stroke-width="0.7"/>
<line x1="462.20" y1="211.44" x2="465.20" y2="211.44" stroke="#f0161e" stroke-width="0.7"/>
<rect x="461.20" y="211.44" width="5.00" height="16.86" fill="#f0161e" stroke="none" stroke-width="0.6"/>
<line x1="471.80" y1="210.04" x2="471.80" y2="212.14" stroke="#808080" stroke-width="0.7"/>
<line x1="470.30" y1="210.04" x2="473.30" y2="210.04" stroke="#808080" stroke-width="0.7"/>
<line x1="470.30" y1="212.14" x2="473.30" y2="212.14" stroke="#808080" stroke-width="0.7"/>
<rect x="469.20" y="212.14" width="5.20" height="16.16" fill="#808080" stroke="none" stroke-width="0.6"/>
<line x1="485.50" y1="194.58" x2="485.50" y2="195.99" stroke="#f0161e" stroke-width="0.7"/>
<line x1="484.00" y1="194.58" x2="487.00" y2="194.58" stroke="#f0161e" stroke-width="0.7"/>
<line x1="484.00" y1="195.99" x2="487.00" y2="195.99" stroke="#f0161e" stroke-width="0.7"/>
<rect x="483.00" y="195.99" width="5.00" height="32.31" fill="#f0161e" stroke="none" stroke-width="0.6"/>
<line x1="493.40" y1="192.82" x2="493.40" y2="195.28" stroke="#808080" stroke-width="0.7"/>
<line x1="491.90" y1="192.82" x2="494.90" y2="192.82" stroke="#808080" stroke-width="0.7"/>
<line x1="491.90" y1="195.28" x2="494.90" y2="195.28" stroke="#808080" stroke-width="0.7"/>
<rect x="490.80" y="195.28" width="5.20" height="33.02" fill="#808080" stroke="none" stroke-width="0.6"/>
<line x1="506.90" y1="184.39" x2="506.90" y2="186.15" stroke="#f0161e" stroke-width="0.7"/>
<line x1="505.40" y1="184.39" x2="508.40" y2="184.39" stroke="#f0161e" stroke-width="0.7"/>
<line x1="505.40" y1="186.15" x2="508.40" y2="186.15" stroke="#f0161e" stroke-width="0.7"/>
<rect x="504.40" y="186.15" width="5.00" height="42.15" fill="#f0161e" stroke="none" stroke-width="0.6"/>
<line x1="514.60" y1="185.10" x2="514.60" y2="185.80" stroke="#808080" stroke-width="0.7"/>
<line x1="513.10" y1="185.10" x2="516.10" y2="185.10" stroke="#808080" stroke-width="0.7"/>
<line x1="513.10" y1="185.80" x2="516.10" y2="185.80" stroke="#808080" stroke-width="0.7"/>
<rect x="512.00" y="185.80" width="5.20" height="42.50" fill="#808080" stroke="none" stroke-width="0.6"/>
<line x1="436.80" y1="171.70" x2="436.80" y2="228.70" stroke="#0d0d0d" stroke-width="1.1"/>
<line x1="436.80" y1="228.30" x2="518.60" y2="228.30" stroke="#0d0d0d" stroke-width="1.1"/>
<line x1="434.60" y1="228.30" x2="436.80" y2="228.30" stroke="#0d0d0d" stroke-width="0.8"/>
<text x="433.20" y="230.68" font-size="6.6" text-anchor="end" font-weight="normal" fill="#222">0</text>
<line x1="434.60" y1="214.25" x2="436.80" y2="214.25" stroke="#0d0d0d" stroke-width="0.8"/>
<text x="433.20" y="216.63" font-size="6.6" text-anchor="end" font-weight="normal" fill="#222">20</text>
<line x1="434.60" y1="200.20" x2="436.80" y2="200.20" stroke="#0d0d0d" stroke-width="0.8"/>
<text x="433.20" y="202.58" font-size="6.6" text-anchor="end" font-weight="normal" fill="#222">40</text>
<line x1="434.60" y1="186.15" x2="436.80" y2="186.15" stroke="#0d0d0d" stroke-width="0.8"/>
<text x="433.20" y="188.53" font-size="6.6" text-anchor="end" font-weight="normal" fill="#222">60</text>
<line x1="434.60" y1="172.10" x2="436.80" y2="172.10" stroke="#0d0d0d" stroke-width="0.8"/>
<text x="433.20" y="174.48" font-size="6.6" text-anchor="end" font-weight="normal" fill="#222">80</text>
<line x1="445.50" y1="228.30" x2="445.50" y2="230.10" stroke="#0d0d0d" stroke-width="0.6"/>
<text x="445.50" y="236.98" font-size="6.6" text-anchor="middle" font-weight="normal" fill="#222">0</text>
<line x1="467.60" y1="228.30" x2="467.60" y2="230.10" stroke="#0d0d0d" stroke-width="0.6"/>
<text x="467.60" y="236.98" font-size="6.6" text-anchor="middle" font-weight="normal" fill="#222">1</text>
<line x1="489.50" y1="228.30" x2="489.50" y2="230.10" stroke="#0d0d0d" stroke-width="0.6"/>
<text x="489.50" y="236.98" font-size="6.6" text-anchor="middle" font-weight="normal" fill="#222">2</text>
<line x1="510.80" y1="228.30" x2="510.80" y2="230.10" stroke="#0d0d0d" stroke-width="0.6"/>
<text x="510.80" y="236.98" font-size="6.6" text-anchor="middle" font-weight="normal" fill="#222">6</text>
<text x="479.00" y="246.58" font-size="6.6" text-anchor="middle" font-weight="normal" fill="#222">Time (h)</text>
<rect x="441.00" y="172.60" width="5.00" height="4.20" fill="#f0161e" stroke="none" stroke-width="0.6"/>
<text x="448.40" y="176.78" font-size="5.5" text-anchor="start" font-weight="normal" fill="#222">APG-2575 (0.1 µmol/L)</text>
<rect x="441.00" y="180.00" width="5.00" height="4.20" fill="#808080" stroke="none" stroke-width="0.6"/>
<text x="448.40" y="184.18" font-size="5.5" text-anchor="start" font-weight="normal" fill="#222">ABT-199 (0.1 µmol/L)</text>
<text x="7.50" y="276.30" font-size="12.5" text-anchor="start" font-weight="bold" fill="#111">D</text>
<text x="115.00" y="275.83" font-size="7.3" text-anchor="middle" font-weight="normal" fill="#222">KMS-11</text>
<text x="33.60" y="326.00" font-size="8.4" text-anchor="middle" font-weight="normal" fill="#222" transform="rotate(-90 33.60 326.00)">% Bcl2:BIM remaining</text>
<line x1="62.38" y1="309.30" x2="62.38" y2="311.65" stroke="#111" stroke-width="0.55"/>
<line x1="61.08" y1="309.30" x2="63.68" y2="309.30" stroke="#111" stroke-width="0.55"/>
<line x1="61.08" y1="311.65" x2="63.68" y2="311.65" stroke="#111" stroke-width="0.55"/>
<line x1="66.90" y1="307.54" x2="66.90" y2="309.89" stroke="#111" stroke-width="0.55"/>
<line x1="65.60" y1="307.54" x2="68.20" y2="307.54" stroke="#111" stroke-width="0.55"/>
<line x1="65.60" y1="309.89" x2="68.20" y2="309.89" stroke="#111" stroke-width="0.55"/>
<line x1="85.01" y1="307.54" x2="85.01" y2="312.24" stroke="#111" stroke-width="0.55"/>
<line x1="83.71" y1="307.54" x2="86.31" y2="307.54" stroke="#111" stroke-width="0.55"/>
<line x1="83.71" y1="312.24" x2="86.31" y2="312.24" stroke="#111" stroke-width="0.55"/>
<line x1="112.17" y1="307.54" x2="112.17" y2="314.59" stroke="#111" stroke-width="0.55"/>
<line x1="110.87" y1="307.54" x2="113.47" y2="307.54" stroke="#111" stroke-width="0.55"/>
<line x1="110.87" y1="314.59" x2="113.47" y2="314.59" stroke="#111" stroke-width="0.55"/>
<line x1="166.49" y1="309.01" x2="166.49" y2="316.06" stroke="#111" stroke-width="0.55"/>
<line x1="165.19" y1="309.01" x2="167.79" y2="309.01" stroke="#111" stroke-width="0.55"/>
<line x1="165.19" y1="316.06" x2="167.79" y2="316.06" stroke="#111" stroke-width="0.55"/>
<polyline points="57.85,309.30 62.38,310.48 66.90,308.71 85.01,309.89 112.17,311.06 166.49,312.53" fill="none" stroke="#111" stroke-width="1.25" stroke-linejoin="round"/>
<rect x="56.50" y="307.95" width="2.70" height="2.70" fill="#111" stroke="none" stroke-width="0.6"/>
<rect x="61.03" y="309.13" width="2.70" height="2.70" fill="#111" stroke="none" stroke-width="0.6"/>
<rect x="65.55" y="307.36" width="2.70" height="2.70" fill="#111" stroke="none" stroke-width="0.6"/>
<rect x="83.66" y="308.54" width="2.70" height="2.70" fill="#111" stroke="none" stroke-width="0.6"/>
<rect x="110.82" y="309.71" width="2.70" height="2.70" fill="#111" stroke="none" stroke-width="0.6"/>
<rect x="165.14" y="311.18" width="2.70" height="2.70" fill="#111" stroke="none" stroke-width="0.6"/>
<line x1="62.38" y1="309.89" x2="62.38" y2="314.59" stroke="#2f3f9e" stroke-width="0.55"/>
<line x1="61.08" y1="309.89" x2="63.68" y2="309.89" stroke="#2f3f9e" stroke-width="0.55"/>
<line x1="61.08" y1="314.59" x2="63.68" y2="314.59" stroke="#2f3f9e" stroke-width="0.55"/>
<line x1="66.90" y1="322.82" x2="66.90" y2="328.70" stroke="#2f3f9e" stroke-width="0.55"/>
<line x1="65.60" y1="322.82" x2="68.20" y2="322.82" stroke="#2f3f9e" stroke-width="0.55"/>
<line x1="65.60" y1="328.70" x2="68.20" y2="328.70" stroke="#2f3f9e" stroke-width="0.55"/>
<line x1="85.01" y1="327.53" x2="85.01" y2="334.58" stroke="#2f3f9e" stroke-width="0.55"/>
<line x1="83.71" y1="327.53" x2="86.31" y2="327.53" stroke="#2f3f9e" stroke-width="0.55"/>
<line x1="83.71" y1="334.58" x2="86.31" y2="334.58" stroke="#2f3f9e" stroke-width="0.55"/>
<line x1="112.17" y1="338.11" x2="112.17" y2="342.82" stroke="#2f3f9e" stroke-width="0.55"/>
<line x1="110.87" y1="338.11" x2="113.47" y2="338.11" stroke="#2f3f9e" stroke-width="0.55"/>
<line x1="110.87" y1="342.82" x2="113.47" y2="342.82" stroke="#2f3f9e" stroke-width="0.55"/>
<line x1="166.49" y1="353.40" x2="166.49" y2="356.93" stroke="#2f3f9e" stroke-width="0.55"/>
<line x1="165.19" y1="353.40" x2="167.79" y2="353.40" stroke="#2f3f9e" stroke-width="0.55"/>
<line x1="165.19" y1="356.93" x2="167.79" y2="356.93" stroke="#2f3f9e" stroke-width="0.55"/>
<polyline points="57.85,309.30 62.38,312.24 66.90,325.76 85.01,331.06 112.17,340.46 166.49,355.16" fill="none" stroke="#2f3f9e" stroke-width="1.6" stroke-linejoin="round"/>
<rect x="56.15" y="307.60" width="3.40" height="3.40" fill="#2f3f9e" stroke="none" stroke-width="0.6"/>
<rect x="60.68" y="310.54" width="3.40" height="3.40" fill="#2f3f9e" stroke="none" stroke-width="0.6"/>
<rect x="65.20" y="324.06" width="3.40" height="3.40" fill="#2f3f9e" stroke="none" stroke-width="0.6"/>
<rect x="83.31" y="329.36" width="3.40" height="3.40" fill="#2f3f9e" stroke="none" stroke-width="0.6"/>
<rect x="110.47" y="338.76" width="3.40" height="3.40" fill="#2f3f9e" stroke="none" stroke-width="0.6"/>
<rect x="164.79" y="353.46" width="3.40" height="3.40" fill="#2f3f9e" stroke="none" stroke-width="0.6"/>
<line x1="62.38" y1="311.06" x2="62.38" y2="318.12" stroke="#b5121b" stroke-width="0.55"/>
<line x1="61.08" y1="311.06" x2="63.68" y2="311.06" stroke="#b5121b" stroke-width="0.55"/>
<line x1="61.08" y1="318.12" x2="63.68" y2="318.12" stroke="#b5121b" stroke-width="0.55"/>
<line x1="66.90" y1="325.18" x2="66.90" y2="334.58" stroke="#b5121b" stroke-width="0.55"/>
<line x1="65.60" y1="325.18" x2="68.20" y2="325.18" stroke="#b5121b" stroke-width="0.55"/>
<line x1="65.60" y1="334.58" x2="68.20" y2="334.58" stroke="#b5121b" stroke-width="0.55"/>
<line x1="85.01" y1="334.58" x2="85.01" y2="343.99" stroke="#b5121b" stroke-width="0.55"/>
<line x1="83.71" y1="334.58" x2="86.31" y2="334.58" stroke="#b5121b" stroke-width="0.55"/>
<line x1="83.71" y1="343.99" x2="86.31" y2="343.99" stroke="#b5121b" stroke-width="0.55"/>
<line x1="112.17" y1="349.28" x2="112.17" y2="356.34" stroke="#b5121b" stroke-width="0.55"/>
<line x1="110.87" y1="349.28" x2="113.47" y2="349.28" stroke="#b5121b" stroke-width="0.55"/>
<line x1="110.87" y1="356.34" x2="113.47" y2="356.34" stroke="#b5121b" stroke-width="0.55"/>
<line x1="166.49" y1="361.63" x2="166.49" y2="365.16" stroke="#b5121b" stroke-width="0.55"/>
<line x1="165.19" y1="361.63" x2="167.79" y2="361.63" stroke="#b5121b" stroke-width="0.55"/>
<line x1="165.19" y1="365.16" x2="167.79" y2="365.16" stroke="#b5121b" stroke-width="0.55"/>
<polyline points="57.85,309.30 62.38,314.59 66.90,329.88 85.01,339.29 112.17,352.81 166.49,363.40" fill="none" stroke="#b5121b" stroke-width="1.6" stroke-linejoin="round"/>
<circle cx="57.85" cy="309.30" r="1.85" fill="#b5121b"/>
<circle cx="62.38" cy="314.59" r="1.85" fill="#b5121b"/>
<circle cx="66.90" cy="329.88" r="1.85" fill="#b5121b"/>
<circle cx="85.01" cy="339.29" r="1.85" fill="#b5121b"/>
<circle cx="112.17" cy="352.81" r="1.85" fill="#b5121b"/>
<circle cx="166.49" cy="363.40" r="1.85" fill="#b5121b"/>
<line x1="57.85" y1="279.50" x2="57.85" y2="368.50" stroke="#0d0d0d" stroke-width="1.1"/>
<line x1="57.85" y1="368.10" x2="167.49" y2="368.10" stroke="#0d0d0d" stroke-width="1.1"/>
<line x1="54.85" y1="368.10" x2="57.85" y2="368.10" stroke="#0d0d0d" stroke-width="0.9"/>
<text x="53.65" y="370.55" font-size="6.8" text-anchor="end" font-weight="normal" fill="#222">0</text>
<line x1="54.85" y1="338.70" x2="57.85" y2="338.70" stroke="#0d0d0d" stroke-width="0.9"/>
<text x="53.65" y="341.15" font-size="6.8" text-anchor="end" font-weight="normal" fill="#222">50</text>
<line x1="54.85" y1="309.30" x2="57.85" y2="309.30" stroke="#0d0d0d" stroke-width="0.9"/>
<text x="53.65" y="311.75" font-size="6.8" text-anchor="end" font-weight="normal" fill="#222">100</text>
<line x1="54.85" y1="279.90" x2="57.85" y2="279.90" stroke="#0d0d0d" stroke-width="0.9"/>
<text x="53.65" y="282.35" font-size="6.8" text-anchor="end" font-weight="normal" fill="#222">150</text>
<line x1="57.85" y1="368.10" x2="57.85" y2="371.10" stroke="#0d0d0d" stroke-width="0.9"/>
<text x="57.85" y="379.45" font-size="6.8" text-anchor="middle" font-weight="normal" fill="#222">0</text>
<line x1="85.01" y1="368.10" x2="85.01" y2="371.10" stroke="#0d0d0d" stroke-width="0.9"/>
<text x="85.01" y="379.45" font-size="6.8" text-anchor="middle" font-weight="normal" fill="#222">6</text>
<line x1="112.17" y1="368.10" x2="112.17" y2="371.10" stroke="#0d0d0d" stroke-width="0.9"/>
<text x="112.17" y="379.45" font-size="6.8" text-anchor="middle" font-weight="normal" fill="#222">12</text>
<line x1="139.33" y1="368.10" x2="139.33" y2="371.10" stroke="#0d0d0d" stroke-width="0.9"/>
<text x="139.33" y="379.45" font-size="6.8" text-anchor="middle" font-weight="normal" fill="#222">18</text>
<line x1="166.49" y1="368.10" x2="166.49" y2="371.10" stroke="#0d0d0d" stroke-width="0.9"/>
<text x="166.49" y="379.45" font-size="6.8" text-anchor="middle" font-weight="normal" fill="#222">24</text>
<text x="111.00" y="390.83" font-size="6.2" text-anchor="middle" font-weight="normal" fill="#222">Time (h)</text>
<text x="112.50" y="361.72" font-size="7" text-anchor="middle" font-weight="bold" fill="#222">**</text>
<text x="175.50" y="367.72" font-size="7" text-anchor="middle" font-weight="bold" fill="#222">**</text>
<line x1="42.50" y1="402.60" x2="54.00" y2="402.60" stroke="#111" stroke-width="2.4"/>
<text x="55.40" y="405.08" font-size="6.6" text-anchor="start" font-weight="normal" fill="#222">Vehicle</text>
<line x1="85.00" y1="402.60" x2="96.00" y2="402.60" stroke="#2f3f9e" stroke-width="2.4"/>
<text x="97.60" y="405.08" font-size="6.6" text-anchor="start" font-weight="normal" fill="#222">ABT-199</text>
<line x1="131.00" y1="402.60" x2="142.00" y2="402.60" stroke="#b5121b" stroke-width="2.4"/>
<text x="143.60" y="405.08" font-size="6.6" text-anchor="start" font-weight="normal" fill="#222">APG-2575</text>
<text x="333.00" y="277.23" font-size="7.3" text-anchor="middle" font-weight="normal" fill="#222">BCWM.1</text>
<text x="257.50" y="330.00" font-size="8.4" text-anchor="middle" font-weight="normal" fill="#222" transform="rotate(-90 257.50 330.00)">% Bcl2:BIM remaining</text>
<line x1="284.67" y1="307.26" x2="284.67" y2="312.18" stroke="#111" stroke-width="0.55"/>
<line x1="283.37" y1="307.26" x2="285.97" y2="307.26" stroke="#111" stroke-width="0.55"/>
<line x1="283.37" y1="312.18" x2="285.97" y2="312.18" stroke="#111" stroke-width="0.55"/>
<line x1="289.23" y1="307.87" x2="289.23" y2="316.48" stroke="#111" stroke-width="0.55"/>
<line x1="287.93" y1="307.87" x2="290.53" y2="307.87" stroke="#111" stroke-width="0.55"/>
<line x1="287.93" y1="316.48" x2="290.53" y2="316.48" stroke="#111" stroke-width="0.55"/>
<line x1="307.50" y1="308.49" x2="307.50" y2="310.95" stroke="#111" stroke-width="0.55"/>
<line x1="306.20" y1="308.49" x2="308.80" y2="308.49" stroke="#111" stroke-width="0.55"/>
<line x1="306.20" y1="310.95" x2="308.80" y2="310.95" stroke="#111" stroke-width="0.55"/>
<line x1="334.90" y1="306.34" x2="334.90" y2="314.94" stroke="#111" stroke-width="0.55"/>
<line x1="333.60" y1="306.34" x2="336.20" y2="306.34" stroke="#111" stroke-width="0.55"/>
<line x1="333.60" y1="314.94" x2="336.20" y2="314.94" stroke="#111" stroke-width="0.55"/>
<line x1="389.70" y1="310.03" x2="389.70" y2="313.71" stroke="#111" stroke-width="0.55"/>
<line x1="388.40" y1="310.03" x2="391.00" y2="310.03" stroke="#111" stroke-width="0.55"/>
<line x1="388.40" y1="313.71" x2="391.00" y2="313.71" stroke="#111" stroke-width="0.55"/>
<polyline points="280.10,310.33 284.67,309.72 289.23,312.18 307.50,309.72 334.90,310.64 389.70,311.87" fill="none" stroke="#111" stroke-width="1.25" stroke-linejoin="round"/>
<rect x="278.75" y="308.98" width="2.70" height="2.70" fill="#111" stroke="none" stroke-width="0.6"/>
<rect x="283.32" y="308.37" width="2.70" height="2.70" fill="#111" stroke="none" stroke-width="0.6"/>
<rect x="287.88" y="310.83" width="2.70" height="2.70" fill="#111" stroke="none" stroke-width="0.6"/>
<rect x="306.15" y="308.37" width="2.70" height="2.70" fill="#111" stroke="none" stroke-width="0.6"/>
<rect x="333.55" y="309.29" width="2.70" height="2.70" fill="#111" stroke="none" stroke-width="0.6"/>
<rect x="388.35" y="310.52" width="2.70" height="2.70" fill="#111" stroke="none" stroke-width="0.6"/>
<line x1="284.67" y1="314.02" x2="284.67" y2="321.40" stroke="#2f3f9e" stroke-width="0.55"/>
<line x1="283.37" y1="314.02" x2="285.97" y2="314.02" stroke="#2f3f9e" stroke-width="0.55"/>
<line x1="283.37" y1="321.40" x2="285.97" y2="321.40" stroke="#2f3f9e" stroke-width="0.55"/>
<line x1="289.23" y1="314.64" x2="289.23" y2="324.47" stroke="#2f3f9e" stroke-width="0.55"/>
<line x1="287.93" y1="314.64" x2="290.53" y2="314.64" stroke="#2f3f9e" stroke-width="0.55"/>
<line x1="287.93" y1="324.47" x2="290.53" y2="324.47" stroke="#2f3f9e" stroke-width="0.55"/>
<line x1="307.50" y1="320.78" x2="307.50" y2="328.16" stroke="#2f3f9e" stroke-width="0.55"/>
<line x1="306.20" y1="320.78" x2="308.80" y2="320.78" stroke="#2f3f9e" stroke-width="0.55"/>
<line x1="306.20" y1="328.16" x2="308.80" y2="328.16" stroke="#2f3f9e" stroke-width="0.55"/>
<line x1="334.90" y1="345.37" x2="334.90" y2="363.81" stroke="#2f3f9e" stroke-width="0.55"/>
<line x1="333.60" y1="345.37" x2="336.20" y2="345.37" stroke="#2f3f9e" stroke-width="0.55"/>
<line x1="333.60" y1="363.81" x2="336.20" y2="363.81" stroke="#2f3f9e" stroke-width="0.55"/>
<line x1="389.70" y1="346.60" x2="389.70" y2="367.50" stroke="#2f3f9e" stroke-width="0.55"/>
<line x1="388.40" y1="346.60" x2="391.00" y2="346.60" stroke="#2f3f9e" stroke-width="0.55"/>
<line x1="388.40" y1="367.50" x2="391.00" y2="367.50" stroke="#2f3f9e" stroke-width="0.55"/>
<polyline points="280.10,310.33 284.67,317.71 289.23,319.55 307.50,324.47 334.90,354.59 389.70,357.05" fill="none" stroke="#2f3f9e" stroke-width="1.6" stroke-linejoin="round"/>
<rect x="278.40" y="308.63" width="3.40" height="3.40" fill="#2f3f9e" stroke="none" stroke-width="0.6"/>
<rect x="282.97" y="316.01" width="3.40" height="3.40" fill="#2f3f9e" stroke="none" stroke-width="0.6"/>
<rect x="287.53" y="317.85" width="3.40" height="3.40" fill="#2f3f9e" stroke="none" stroke-width="0.6"/>
<rect x="305.80" y="322.77" width="3.40" height="3.40" fill="#2f3f9e" stroke="none" stroke-width="0.6"/>
<rect x="333.20" y="352.89" width="3.40" height="3.40" fill="#2f3f9e" stroke="none" stroke-width="0.6"/>
<rect x="388.00" y="355.35" width="3.40" height="3.40" fill="#2f3f9e" stroke="none" stroke-width="0.6"/>
<line x1="284.67" y1="311.56" x2="284.67" y2="326.31" stroke="#b5121b" stroke-width="0.55"/>
<line x1="283.37" y1="311.56" x2="285.97" y2="311.56" stroke="#b5121b" stroke-width="0.55"/>
<line x1="283.37" y1="326.31" x2="285.97" y2="326.31" stroke="#b5121b" stroke-width="0.55"/>
<line x1="289.23" y1="311.56" x2="289.23" y2="336.15" stroke="#b5121b" stroke-width="0.55"/>
<line x1="287.93" y1="311.56" x2="290.53" y2="311.56" stroke="#b5121b" stroke-width="0.55"/>
<line x1="287.93" y1="336.15" x2="290.53" y2="336.15" stroke="#b5121b" stroke-width="0.55"/>
<line x1="307.50" y1="310.95" x2="307.50" y2="353.97" stroke="#b5121b" stroke-width="0.55"/>
<line x1="306.20" y1="310.95" x2="308.80" y2="310.95" stroke="#b5121b" stroke-width="0.55"/>
<line x1="306.20" y1="353.97" x2="308.80" y2="353.97" stroke="#b5121b" stroke-width="0.55"/>
<line x1="334.90" y1="359.51" x2="334.90" y2="364.42" stroke="#b5121b" stroke-width="0.55"/>
<line x1="333.60" y1="359.51" x2="336.20" y2="359.51" stroke="#b5121b" stroke-width="0.55"/>
<line x1="333.60" y1="364.42" x2="336.20" y2="364.42" stroke="#b5121b" stroke-width="0.55"/>
<line x1="389.70" y1="363.19" x2="389.70" y2="368.11" stroke="#b5121b" stroke-width="0.55"/>
<line x1="388.40" y1="363.19" x2="391.00" y2="363.19" stroke="#b5121b" stroke-width="0.55"/>
<line x1="388.40" y1="368.11" x2="391.00" y2="368.11" stroke="#b5121b" stroke-width="0.55"/>
<polyline points="280.10,310.33 284.67,318.94 289.23,323.86 307.50,332.46 334.90,361.97 389.70,365.65" fill="none" stroke="#b5121b" stroke-width="1.6" stroke-linejoin="round"/>
<circle cx="280.10" cy="310.33" r="1.85" fill="#b5121b"/>
<circle cx="284.67" cy="318.94" r="1.85" fill="#b5121b"/>
<circle cx="289.23" cy="323.86" r="1.85" fill="#b5121b"/>
<circle cx="307.50" cy="332.46" r="1.85" fill="#b5121b"/>
<circle cx="334.90" cy="361.97" r="1.85" fill="#b5121b"/>
<circle cx="389.70" cy="365.65" r="1.85" fill="#b5121b"/>
<line x1="280.10" y1="279.20" x2="280.10" y2="372.20" stroke="#0d0d0d" stroke-width="1.1"/>
<line x1="280.10" y1="371.80" x2="390.70" y2="371.80" stroke="#0d0d0d" stroke-width="1.1"/>
<line x1="277.10" y1="371.80" x2="280.10" y2="371.80" stroke="#0d0d0d" stroke-width="0.9"/>
<text x="275.90" y="374.25" font-size="6.8" text-anchor="end" font-weight="normal" fill="#222">0</text>
<line x1="277.10" y1="341.07" x2="280.10" y2="341.07" stroke="#0d0d0d" stroke-width="0.9"/>
<text x="275.90" y="343.51" font-size="6.8" text-anchor="end" font-weight="normal" fill="#222">50</text>
<line x1="277.10" y1="310.33" x2="280.10" y2="310.33" stroke="#0d0d0d" stroke-width="0.9"/>
<text x="275.90" y="312.78" font-size="6.8" text-anchor="end" font-weight="normal" fill="#222">100</text>
<line x1="277.10" y1="279.60" x2="280.10" y2="279.60" stroke="#0d0d0d" stroke-width="0.9"/>
<text x="275.90" y="282.05" font-size="6.8" text-anchor="end" font-weight="normal" fill="#222">150</text>
<line x1="280.10" y1="371.80" x2="280.10" y2="374.80" stroke="#0d0d0d" stroke-width="0.9"/>
<text x="280.10" y="382.85" font-size="6.8" text-anchor="middle" font-weight="normal" fill="#222">0</text>
<line x1="307.50" y1="371.80" x2="307.50" y2="374.80" stroke="#0d0d0d" stroke-width="0.9"/>
<text x="307.50" y="382.85" font-size="6.8" text-anchor="middle" font-weight="normal" fill="#222">6</text>
<line x1="334.90" y1="371.80" x2="334.90" y2="374.80" stroke="#0d0d0d" stroke-width="0.9"/>
<text x="334.90" y="382.85" font-size="6.8" text-anchor="middle" font-weight="normal" fill="#222">12</text>
<line x1="362.30" y1="371.80" x2="362.30" y2="374.80" stroke="#0d0d0d" stroke-width="0.9"/>
<text x="362.30" y="382.85" font-size="6.8" text-anchor="middle" font-weight="normal" fill="#222">18</text>
<line x1="389.70" y1="371.80" x2="389.70" y2="374.80" stroke="#0d0d0d" stroke-width="0.9"/>
<text x="389.70" y="382.85" font-size="6.8" text-anchor="middle" font-weight="normal" fill="#222">24</text>
<text x="336.00" y="394.83" font-size="6.2" text-anchor="middle" font-weight="normal" fill="#222">Time (h)</text>
<text x="334.50" y="369.92" font-size="7" text-anchor="middle" font-weight="bold" fill="#222">**</text>
<text x="397.50" y="369.92" font-size="7" text-anchor="middle" font-weight="bold" fill="#222">**</text>
<line x1="267.50" y1="403.60" x2="278.50" y2="403.60" stroke="#111" stroke-width="2.4"/>
<text x="280.00" y="406.08" font-size="6.6" text-anchor="start" font-weight="normal" fill="#222">Vehicle</text>
<line x1="310.00" y1="403.60" x2="321.00" y2="403.60" stroke="#2f3f9e" stroke-width="2.4"/>
<text x="322.60" y="406.08" font-size="6.6" text-anchor="start" font-weight="normal" fill="#222">ABT-199</text>
<line x1="355.00" y1="403.60" x2="366.00" y2="403.60" stroke="#b5121b" stroke-width="2.4"/>
<text x="367.60" y="406.08" font-size="6.6" text-anchor="start" font-weight="normal" fill="#222">APG-2575</text>
<text x="8.50" y="431.30" font-size="12.5" text-anchor="start" font-weight="bold" fill="#111">E</text>
<line x1="84.15" y1="482.13" x2="84.15" y2="511.35" stroke="#f59a23" stroke-width="0.8"/>
<line x1="82.45" y1="482.13" x2="85.85" y2="482.13" stroke="#f59a23" stroke-width="0.8"/>
<line x1="82.45" y1="511.35" x2="85.85" y2="511.35" stroke="#f59a23" stroke-width="0.8"/>
<line x1="99.85" y1="505.50" x2="99.85" y2="510.70" stroke="#f59a23" stroke-width="0.8"/>
<line x1="98.15" y1="505.50" x2="101.55" y2="505.50" stroke="#f59a23" stroke-width="0.8"/>
<line x1="98.15" y1="510.70" x2="101.55" y2="510.70" stroke="#f59a23" stroke-width="0.8"/>
<line x1="107.70" y1="500.31" x2="107.70" y2="510.70" stroke="#f59a23" stroke-width="0.8"/>
<line x1="106.00" y1="500.31" x2="109.40" y2="500.31" stroke="#f59a23" stroke-width="0.8"/>
<line x1="106.00" y1="510.70" x2="109.40" y2="510.70" stroke="#f59a23" stroke-width="0.8"/>
<line x1="115.55" y1="504.21" x2="115.55" y2="510.70" stroke="#f59a23" stroke-width="0.8"/>
<line x1="113.85" y1="504.21" x2="117.25" y2="504.21" stroke="#f59a23" stroke-width="0.8"/>
<line x1="113.85" y1="510.70" x2="117.25" y2="510.70" stroke="#f59a23" stroke-width="0.8"/>
<line x1="123.40" y1="505.50" x2="123.40" y2="510.70" stroke="#f59a23" stroke-width="0.8"/>
<line x1="121.70" y1="505.50" x2="125.10" y2="505.50" stroke="#f59a23" stroke-width="0.8"/>
<line x1="121.70" y1="510.70" x2="125.10" y2="510.70" stroke="#f59a23" stroke-width="0.8"/>
<line x1="131.25" y1="504.21" x2="131.25" y2="510.70" stroke="#f59a23" stroke-width="0.8"/>
<line x1="129.55" y1="504.21" x2="132.95" y2="504.21" stroke="#f59a23" stroke-width="0.8"/>
<line x1="129.55" y1="510.70" x2="132.95" y2="510.70" stroke="#f59a23" stroke-width="0.8"/>
<line x1="139.10" y1="505.50" x2="139.10" y2="510.70" stroke="#f59a23" stroke-width="0.8"/>
<line x1="137.40" y1="505.50" x2="140.80" y2="505.50" stroke="#f59a23" stroke-width="0.8"/>
<line x1="137.40" y1="510.70" x2="140.80" y2="510.70" stroke="#f59a23" stroke-width="0.8"/>
<line x1="146.95" y1="495.12" x2="146.95" y2="500.31" stroke="#f59a23" stroke-width="0.8"/>
<line x1="145.25" y1="495.12" x2="148.65" y2="495.12" stroke="#f59a23" stroke-width="0.8"/>
<line x1="145.25" y1="500.31" x2="148.65" y2="500.31" stroke="#f59a23" stroke-width="0.8"/>
<line x1="154.80" y1="504.21" x2="154.80" y2="510.70" stroke="#f59a23" stroke-width="0.8"/>
<line x1="153.10" y1="504.21" x2="156.50" y2="504.21" stroke="#f59a23" stroke-width="0.8"/>
<line x1="153.10" y1="510.70" x2="156.50" y2="510.70" stroke="#f59a23" stroke-width="0.8"/>
<line x1="162.65" y1="505.50" x2="162.65" y2="510.70" stroke="#f59a23" stroke-width="0.8"/>
<line x1="160.95" y1="505.50" x2="164.35" y2="505.50" stroke="#f59a23" stroke-width="0.8"/>
<line x1="160.95" y1="510.70" x2="164.35" y2="510.70" stroke="#f59a23" stroke-width="0.8"/>
<line x1="170.50" y1="506.15" x2="170.50" y2="510.05" stroke="#f59a23" stroke-width="0.8"/>
<line x1="168.80" y1="506.15" x2="172.20" y2="506.15" stroke="#f59a23" stroke-width="0.8"/>
<line x1="168.80" y1="510.05" x2="172.20" y2="510.05" stroke="#f59a23" stroke-width="0.8"/>
<path d="M84.15 500.36 L85.75 502.26 L84.15 504.16 L82.55 502.26 Z" fill="#f59a23"/>
<path d="M99.85 506.20 L101.45 508.10 L99.85 510.00 L98.25 508.10 Z" fill="#f59a23"/>
<path d="M107.70 503.61 L109.30 505.50 L107.70 507.40 L106.10 505.50 Z" fill="#f59a23"/>
<path d="M115.55 505.55 L117.15 507.45 L115.55 509.35 L113.95 507.45 Z" fill="#f59a23"/>
<path d="M123.40 506.20 L125.00 508.10 L123.40 510.00 L121.80 508.10 Z" fill="#f59a23"/>
<path d="M131.25 505.55 L132.85 507.45 L131.25 509.35 L129.65 507.45 Z" fill="#f59a23"/>
<path d="M139.10 506.20 L140.70 508.10 L139.10 510.00 L137.50 508.10 Z" fill="#f59a23"/>
<path d="M146.95 495.81 L148.55 497.71 L146.95 499.61 L145.35 497.71 Z" fill="#f59a23"/>
<path d="M154.80 505.55 L156.40 507.45 L154.80 509.35 L153.20 507.45 Z" fill="#f59a23"/>
<path d="M162.65 506.20 L164.25 508.10 L162.65 510.00 L161.05 508.10 Z" fill="#f59a23"/>
<path d="M170.50 506.20 L172.10 508.10 L170.50 510.00 L168.90 508.10 Z" fill="#f59a23"/>
<line x1="84.15" y1="506.15" x2="84.15" y2="510.05" stroke="#3fae3a" stroke-width="0.8"/>
<line x1="82.45" y1="506.15" x2="85.85" y2="506.15" stroke="#3fae3a" stroke-width="0.8"/>
<line x1="82.45" y1="510.05" x2="85.85" y2="510.05" stroke="#3fae3a" stroke-width="0.8"/>
<line x1="99.85" y1="505.50" x2="99.85" y2="509.40" stroke="#3fae3a" stroke-width="0.8"/>
<line x1="98.15" y1="505.50" x2="101.55" y2="505.50" stroke="#3fae3a" stroke-width="0.8"/>
<line x1="98.15" y1="509.40" x2="101.55" y2="509.40" stroke="#3fae3a" stroke-width="0.8"/>
<line x1="107.70" y1="506.15" x2="107.70" y2="510.05" stroke="#3fae3a" stroke-width="0.8"/>
<line x1="106.00" y1="506.15" x2="109.40" y2="506.15" stroke="#3fae3a" stroke-width="0.8"/>
<line x1="106.00" y1="510.05" x2="109.40" y2="510.05" stroke="#3fae3a" stroke-width="0.8"/>
<line x1="115.55" y1="505.50" x2="115.55" y2="509.40" stroke="#3fae3a" stroke-width="0.8"/>
<line x1="113.85" y1="505.50" x2="117.25" y2="505.50" stroke="#3fae3a" stroke-width="0.8"/>
<line x1="113.85" y1="509.40" x2="117.25" y2="509.40" stroke="#3fae3a" stroke-width="0.8"/>
<line x1="123.40" y1="504.21" x2="123.40" y2="509.40" stroke="#3fae3a" stroke-width="0.8"/>
<line x1="121.70" y1="504.21" x2="125.10" y2="504.21" stroke="#3fae3a" stroke-width="0.8"/>
<line x1="121.70" y1="509.40" x2="125.10" y2="509.40" stroke="#3fae3a" stroke-width="0.8"/>
<line x1="131.25" y1="503.56" x2="131.25" y2="510.05" stroke="#3fae3a" stroke-width="0.8"/>
<line x1="129.55" y1="503.56" x2="132.95" y2="503.56" stroke="#3fae3a" stroke-width="0.8"/>
<line x1="129.55" y1="510.05" x2="132.95" y2="510.05" stroke="#3fae3a" stroke-width="0.8"/>
<line x1="139.10" y1="483.43" x2="139.10" y2="500.31" stroke="#3fae3a" stroke-width="0.8"/>
<line x1="137.40" y1="483.43" x2="140.80" y2="483.43" stroke="#3fae3a" stroke-width="0.8"/>
<line x1="137.40" y1="500.31" x2="140.80" y2="500.31" stroke="#3fae3a" stroke-width="0.8"/>
<line x1="146.95" y1="443.19" x2="146.95" y2="466.56" stroke="#3fae3a" stroke-width="0.8"/>
<line x1="145.25" y1="443.19" x2="148.65" y2="443.19" stroke="#3fae3a" stroke-width="0.8"/>
<line x1="145.25" y1="466.56" x2="148.65" y2="466.56" stroke="#3fae3a" stroke-width="0.8"/>
<line x1="154.80" y1="440.59" x2="154.80" y2="448.38" stroke="#3fae3a" stroke-width="0.8"/>
<line x1="153.10" y1="440.59" x2="156.50" y2="440.59" stroke="#3fae3a" stroke-width="0.8"/>
<line x1="153.10" y1="448.38" x2="156.50" y2="448.38" stroke="#3fae3a" stroke-width="0.8"/>
<line x1="162.65" y1="439.29" x2="162.65" y2="448.38" stroke="#3fae3a" stroke-width="0.8"/>
<line x1="160.95" y1="439.29" x2="164.35" y2="439.29" stroke="#3fae3a" stroke-width="0.8"/>
<line x1="160.95" y1="448.38" x2="164.35" y2="448.38" stroke="#3fae3a" stroke-width="0.8"/>
<line x1="170.50" y1="443.83" x2="170.50" y2="450.33" stroke="#3fae3a" stroke-width="0.8"/>
<line x1="168.80" y1="443.83" x2="172.20" y2="443.83" stroke="#3fae3a" stroke-width="0.8"/>
<line x1="168.80" y1="450.33" x2="172.20" y2="450.33" stroke="#3fae3a" stroke-width="0.8"/>
<polyline points="84.15,508.10 85.23,508.10 86.31,508.10 87.39,508.10 88.47,508.10 89.55,508.10 90.63,508.10 91.71,508.10 92.79,508.10 93.86,508.10 94.94,508.10 96.02,508.10 97.10,508.10 98.18,508.10 99.26,508.10 100.34,508.10 101.42,508.10 102.50,508.10 103.58,508.10 104.66,508.10 105.74,508.10 106.82,508.10 107.90,508.10 108.98,508.10 110.06,508.10 111.13,508.10 112.21,508.10 113.29,508.10 114.37,508.10 115.45,508.09 116.53,508.09 117.61,508.09 118.69,508.08 119.77,508.07 120.85,508.06 121.93,508.04 123.01,508.01 124.09,507.98 125.17,507.92 126.25,507.84 127.32,507.73 128.40,507.56 129.48,507.33 130.56,507.00 131.64,506.52 132.72,505.85 133.80,504.91 134.88,503.61 135.96,501.83 137.04,499.45 138.12,496.34 139.20,492.43 140.28,487.73 141.36,482.37 142.44,476.61 143.52,470.80 144.59,465.32 145.67,460.46 146.75,456.38 147.83,453.10 148.91,450.57 149.99,448.67 151.07,447.27 152.15,446.26 153.23,445.54 154.31,445.03 155.39,444.67 156.47,444.42 157.55,444.24 158.63,444.12 159.71,444.03 160.79,443.97 161.87,443.93 162.94,443.90 164.02,443.88 165.10,443.87 166.18,443.86 167.26,443.85 168.34,443.84 169.42,443.84 170.50,443.84" fill="none" stroke="#3fae3a" stroke-width="1.2" stroke-linejoin="round"/>
<path d="M84.15 506.10 L86.05 509.40 L82.25 509.40 Z" fill="#3fae3a"/>
<path d="M99.85 505.45 L101.75 508.75 L97.95 508.75 Z" fill="#3fae3a"/>
<path d="M107.70 506.10 L109.60 509.40 L105.80 509.40 Z" fill="#3fae3a"/>
<path d="M115.55 505.45 L117.45 508.75 L113.65 508.75 Z" fill="#3fae3a"/>
<path d="M123.40 504.80 L125.30 508.10 L121.50 508.10 Z" fill="#3fae3a"/>
<path d="M131.25 504.80 L133.15 508.10 L129.35 508.10 Z" fill="#3fae3a"/>
<path d="M139.10 489.87 L141.00 493.17 L137.20 493.17 Z" fill="#3fae3a"/>
<path d="M146.95 452.87 L148.85 456.17 L145.05 456.17 Z" fill="#3fae3a"/>
<path d="M154.80 442.48 L156.70 445.78 L152.90 445.78 Z" fill="#3fae3a"/>
<path d="M162.65 441.83 L164.55 445.13 L160.75 445.13 Z" fill="#3fae3a"/>
<path d="M170.50 445.08 L172.40 448.38 L168.60 448.38 Z" fill="#3fae3a"/>
<line x1="84.15" y1="497.07" x2="84.15" y2="504.86" stroke="#8e3a9d" stroke-width="0.8"/>
<line x1="82.45" y1="497.07" x2="85.85" y2="497.07" stroke="#8e3a9d" stroke-width="0.8"/>
<line x1="82.45" y1="504.86" x2="85.85" y2="504.86" stroke="#8e3a9d" stroke-width="0.8"/>
<line x1="99.85" y1="503.56" x2="99.85" y2="511.35" stroke="#8e3a9d" stroke-width="0.8"/>
<line x1="98.15" y1="503.56" x2="101.55" y2="503.56" stroke="#8e3a9d" stroke-width="0.8"/>
<line x1="98.15" y1="511.35" x2="101.55" y2="511.35" stroke="#8e3a9d" stroke-width="0.8"/>
<line x1="107.70" y1="490.57" x2="107.70" y2="506.15" stroke="#8e3a9d" stroke-width="0.8"/>
<line x1="106.00" y1="490.57" x2="109.40" y2="490.57" stroke="#8e3a9d" stroke-width="0.8"/>
<line x1="106.00" y1="506.15" x2="109.40" y2="506.15" stroke="#8e3a9d" stroke-width="0.8"/>
<line x1="115.55" y1="502.26" x2="115.55" y2="511.35" stroke="#8e3a9d" stroke-width="0.8"/>
<line x1="113.85" y1="502.26" x2="117.25" y2="502.26" stroke="#8e3a9d" stroke-width="0.8"/>
<line x1="113.85" y1="511.35" x2="117.25" y2="511.35" stroke="#8e3a9d" stroke-width="0.8"/>
<line x1="123.40" y1="495.12" x2="123.40" y2="511.35" stroke="#8e3a9d" stroke-width="0.8"/>
<line x1="121.70" y1="495.12" x2="125.10" y2="495.12" stroke="#8e3a9d" stroke-width="0.8"/>
<line x1="121.70" y1="511.35" x2="125.10" y2="511.35" stroke="#8e3a9d" stroke-width="0.8"/>
<line x1="131.25" y1="502.26" x2="131.25" y2="511.35" stroke="#8e3a9d" stroke-width="0.8"/>
<line x1="129.55" y1="502.26" x2="132.95" y2="502.26" stroke="#8e3a9d" stroke-width="0.8"/>
<line x1="129.55" y1="511.35" x2="132.95" y2="511.35" stroke="#8e3a9d" stroke-width="0.8"/>
<line x1="139.10" y1="499.01" x2="139.10" y2="511.35" stroke="#8e3a9d" stroke-width="0.8"/>
<line x1="137.40" y1="499.01" x2="140.80" y2="499.01" stroke="#8e3a9d" stroke-width="0.8"/>
<line x1="137.40" y1="511.35" x2="140.80" y2="511.35" stroke="#8e3a9d" stroke-width="0.8"/>
<line x1="146.95" y1="503.56" x2="146.95" y2="511.35" stroke="#8e3a9d" stroke-width="0.8"/>
<line x1="145.25" y1="503.56" x2="148.65" y2="503.56" stroke="#8e3a9d" stroke-width="0.8"/>
<line x1="145.25" y1="511.35" x2="148.65" y2="511.35" stroke="#8e3a9d" stroke-width="0.8"/>
<line x1="154.80" y1="492.52" x2="154.80" y2="511.35" stroke="#8e3a9d" stroke-width="0.8"/>
<line x1="153.10" y1="492.52" x2="156.50" y2="492.52" stroke="#8e3a9d" stroke-width="0.8"/>
<line x1="153.10" y1="511.35" x2="156.50" y2="511.35" stroke="#8e3a9d" stroke-width="0.8"/>
<line x1="162.65" y1="495.12" x2="162.65" y2="510.70" stroke="#8e3a9d" stroke-width="0.8"/>
<line x1="160.95" y1="495.12" x2="164.35" y2="495.12" stroke="#8e3a9d" stroke-width="0.8"/>
<line x1="160.95" y1="510.70" x2="164.35" y2="510.70" stroke="#8e3a9d" stroke-width="0.8"/>
<line x1="170.50" y1="487.98" x2="170.50" y2="507.45" stroke="#8e3a9d" stroke-width="0.8"/>
<line x1="168.80" y1="487.98" x2="172.20" y2="487.98" stroke="#8e3a9d" stroke-width="0.8"/>
<line x1="168.80" y1="507.45" x2="172.20" y2="507.45" stroke="#8e3a9d" stroke-width="0.8"/>
<polyline points="84.15,507.45 85.23,507.45 86.31,507.45 87.39,507.45 88.47,507.45 89.55,507.45 90.63,507.45 91.71,507.45 92.79,507.45 93.86,507.45 94.94,507.45 96.02,507.45 97.10,507.45 98.18,507.45 99.26,507.45 100.34,507.45 101.42,507.45 102.50,507.45 103.58,507.45 104.66,507.45 105.74,507.45 106.82,507.45 107.90,507.45 108.98,507.45 110.06,507.45 111.13,507.45 112.21,507.45 113.29,507.45 114.37,507.45 115.45,507.45 116.53,507.45 117.61,507.45 118.69,507.45 119.77,507.45 120.85,507.45 121.93,507.45 123.01,507.45 124.09,507.45 125.17,507.45 126.25,507.45 127.32,507.45 128.40,507.45 129.48,507.45 130.56,507.45 131.64,507.45 132.72,507.45 133.80,507.45 134.88,507.45 135.96,507.45 137.04,507.45 138.12,507.45 139.20,507.45 140.28,507.45 141.36,507.45 142.44,507.45 143.52,507.45 144.59,507.45 145.67,507.45 146.75,507.45 147.83,507.45 148.91,507.45 149.99,507.45 151.07,507.45 152.15,507.45 153.23,507.45 154.31,507.44 155.39,507.44 156.47,507.42 157.55,507.40 158.63,507.36 159.71,507.27 160.79,507.12 161.87,506.84 162.94,506.35 164.02,505.55 165.10,504.37 166.18,502.85 167.26,501.23 168.34,499.79 169.42,498.71 170.50,498.01" fill="none" stroke="#8e3a9d" stroke-width="1.2" stroke-linejoin="round"/>
<path d="M84.15 502.96 L86.05 499.66 L82.25 499.66 Z" fill="#8e3a9d"/>
<path d="M99.85 509.45 L101.75 506.15 L97.95 506.15 Z" fill="#8e3a9d"/>
<path d="M107.70 500.36 L109.60 497.06 L105.80 497.06 Z" fill="#8e3a9d"/>
<path d="M115.55 509.45 L117.45 506.15 L113.65 506.15 Z" fill="#8e3a9d"/>
<path d="M123.40 508.80 L125.30 505.50 L121.50 505.50 Z" fill="#8e3a9d"/>
<path d="M131.25 509.45 L133.15 506.15 L129.35 506.15 Z" fill="#8e3a9d"/>
<path d="M139.10 507.50 L141.00 504.20 L137.20 504.20 Z" fill="#8e3a9d"/>
<path d="M146.95 509.45 L148.85 506.15 L145.05 506.15 Z" fill="#8e3a9d"/>
<path d="M154.80 508.80 L156.70 505.50 L152.90 505.50 Z" fill="#8e3a9d"/>
<path d="M162.65 504.91 L164.55 501.61 L160.75 501.61 Z" fill="#8e3a9d"/>
<path d="M170.50 499.71 L172.40 496.41 L168.60 496.41 Z" fill="#8e3a9d"/>
<line x1="84.15" y1="501.61" x2="84.15" y2="509.40" stroke="#2a3b97" stroke-width="0.8"/>
<line x1="82.45" y1="501.61" x2="85.85" y2="501.61" stroke="#2a3b97" stroke-width="0.8"/>
<line x1="82.45" y1="509.40" x2="85.85" y2="509.40" stroke="#2a3b97" stroke-width="0.8"/>
<line x1="99.85" y1="492.85" x2="99.85" y2="507.13" stroke="#2a3b97" stroke-width="0.8"/>
<line x1="98.15" y1="492.85" x2="101.55" y2="492.85" stroke="#2a3b97" stroke-width="0.8"/>
<line x1="98.15" y1="507.13" x2="101.55" y2="507.13" stroke="#2a3b97" stroke-width="0.8"/>
<line x1="107.70" y1="498.36" x2="107.70" y2="511.35" stroke="#2a3b97" stroke-width="0.8"/>
<line x1="106.00" y1="498.36" x2="109.40" y2="498.36" stroke="#2a3b97" stroke-width="0.8"/>
<line x1="106.00" y1="511.35" x2="109.40" y2="511.35" stroke="#2a3b97" stroke-width="0.8"/>
<line x1="115.55" y1="478.24" x2="115.55" y2="511.35" stroke="#2a3b97" stroke-width="0.8"/>
<line x1="113.85" y1="478.24" x2="117.25" y2="478.24" stroke="#2a3b97" stroke-width="0.8"/>
<line x1="113.85" y1="511.35" x2="117.25" y2="511.35" stroke="#2a3b97" stroke-width="0.8"/>
<line x1="123.40" y1="494.47" x2="123.40" y2="511.35" stroke="#2a3b97" stroke-width="0.8"/>
<line x1="121.70" y1="494.47" x2="125.10" y2="494.47" stroke="#2a3b97" stroke-width="0.8"/>
<line x1="121.70" y1="511.35" x2="125.10" y2="511.35" stroke="#2a3b97" stroke-width="0.8"/>
<line x1="131.25" y1="478.24" x2="131.25" y2="504.21" stroke="#2a3b97" stroke-width="0.8"/>
<line x1="129.55" y1="478.24" x2="132.95" y2="478.24" stroke="#2a3b97" stroke-width="0.8"/>
<line x1="129.55" y1="504.21" x2="132.95" y2="504.21" stroke="#2a3b97" stroke-width="0.8"/>
<line x1="139.10" y1="484.73" x2="139.10" y2="511.35" stroke="#2a3b97" stroke-width="0.8"/>
<line x1="137.40" y1="484.73" x2="140.80" y2="484.73" stroke="#2a3b97" stroke-width="0.8"/>
<line x1="137.40" y1="511.35" x2="140.80" y2="511.35" stroke="#2a3b97" stroke-width="0.8"/>
<line x1="146.95" y1="500.31" x2="146.95" y2="510.70" stroke="#2a3b97" stroke-width="0.8"/>
<line x1="145.25" y1="500.31" x2="148.65" y2="500.31" stroke="#2a3b97" stroke-width="0.8"/>
<line x1="145.25" y1="510.70" x2="148.65" y2="510.70" stroke="#2a3b97" stroke-width="0.8"/>
<line x1="154.80" y1="500.96" x2="154.80" y2="511.35" stroke="#2a3b97" stroke-width="0.8"/>
<line x1="153.10" y1="500.96" x2="156.50" y2="500.96" stroke="#2a3b97" stroke-width="0.8"/>
<line x1="153.10" y1="511.35" x2="156.50" y2="511.35" stroke="#2a3b97" stroke-width="0.8"/>
<line x1="162.65" y1="480.84" x2="162.65" y2="511.35" stroke="#2a3b97" stroke-width="0.8"/>
<line x1="160.95" y1="480.84" x2="164.35" y2="480.84" stroke="#2a3b97" stroke-width="0.8"/>
<line x1="160.95" y1="511.35" x2="164.35" y2="511.35" stroke="#2a3b97" stroke-width="0.8"/>
<line x1="170.50" y1="454.22" x2="170.50" y2="474.99" stroke="#2a3b97" stroke-width="0.8"/>
<line x1="168.80" y1="454.22" x2="172.20" y2="454.22" stroke="#2a3b97" stroke-width="0.8"/>
<line x1="168.80" y1="474.99" x2="172.20" y2="474.99" stroke="#2a3b97" stroke-width="0.8"/>
<polyline points="84.15,505.50 85.23,505.50 86.31,505.50 87.39,505.50 88.47,505.50 89.55,505.50 90.63,505.50 91.71,505.50 92.79,505.50 93.86,505.50 94.94,505.50 96.02,505.50 97.10,505.50 98.18,505.50 99.26,505.50 100.34,505.50 101.42,505.50 102.50,505.50 103.58,505.50 104.66,505.50 105.74,505.50 106.82,505.50 107.90,505.50 108.98,505.50 110.06,505.50 111.13,505.50 112.21,505.50 113.29,505.50 114.37,505.50 115.45,505.50 116.53,505.50 117.61,505.50 118.69,505.50 119.77,505.50 120.85,505.50 121.93,505.50 123.01,505.50 124.09,505.50 125.17,505.50 126.25,505.50 127.32,505.50 128.40,505.50 129.48,505.50 130.56,505.50 131.64,505.50 132.72,505.50 133.80,505.50 134.88,505.50 135.96,505.50 137.04,505.50 138.12,505.50 139.20,505.50 140.28,505.50 141.36,505.50 142.44,505.50 143.52,505.50 144.59,505.50 145.67,505.50 146.75,505.50 147.83,505.50 148.91,505.50 149.99,505.50 151.07,505.50 152.15,505.50 153.23,505.50 154.31,505.49 155.39,505.48 156.47,505.45 157.55,505.38 158.63,505.22 159.71,504.89 160.79,504.17 161.87,502.67 162.94,499.72 164.02,494.52 165.10,486.99 166.18,478.65 167.26,471.77 168.34,467.33 169.42,464.91 170.50,463.71" fill="none" stroke="#2a3b97" stroke-width="1.2" stroke-linejoin="round"/>
<circle cx="84.15" cy="505.50" r="1.8" fill="#2a3b97"/>
<circle cx="99.85" cy="499.99" r="1.8" fill="#2a3b97"/>
<circle cx="107.70" cy="506.15" r="1.8" fill="#2a3b97"/>
<circle cx="115.55" cy="499.01" r="1.8" fill="#2a3b97"/>
<circle cx="123.40" cy="506.15" r="1.8" fill="#2a3b97"/>
<circle cx="131.25" cy="491.22" r="1.8" fill="#2a3b97"/>
<circle cx="139.10" cy="499.01" r="1.8" fill="#2a3b97"/>
<circle cx="146.95" cy="505.50" r="1.8" fill="#2a3b97"/>
<circle cx="154.80" cy="506.15" r="1.8" fill="#2a3b97"/>
<circle cx="162.65" cy="502.26" r="1.8" fill="#2a3b97"/>
<circle cx="170.50" cy="464.61" r="1.8" fill="#2a3b97"/>
<line x1="84.15" y1="495.12" x2="84.15" y2="511.35" stroke="#e3202a" stroke-width="0.8"/>
<line x1="82.45" y1="495.12" x2="85.85" y2="495.12" stroke="#e3202a" stroke-width="0.8"/>
<line x1="82.45" y1="511.35" x2="85.85" y2="511.35" stroke="#e3202a" stroke-width="0.8"/>
<line x1="99.85" y1="506.15" x2="99.85" y2="510.05" stroke="#e3202a" stroke-width="0.8"/>
<line x1="98.15" y1="506.15" x2="101.55" y2="506.15" stroke="#e3202a" stroke-width="0.8"/>
<line x1="98.15" y1="510.05" x2="101.55" y2="510.05" stroke="#e3202a" stroke-width="0.8"/>
<line x1="107.70" y1="506.15" x2="107.70" y2="511.35" stroke="#e3202a" stroke-width="0.8"/>
<line x1="106.00" y1="506.15" x2="109.40" y2="506.15" stroke="#e3202a" stroke-width="0.8"/>
<line x1="106.00" y1="511.35" x2="109.40" y2="511.35" stroke="#e3202a" stroke-width="0.8"/>
<line x1="115.55" y1="506.80" x2="115.55" y2="510.70" stroke="#e3202a" stroke-width="0.8"/>
<line x1="113.85" y1="506.80" x2="117.25" y2="506.80" stroke="#e3202a" stroke-width="0.8"/>
<line x1="113.85" y1="510.70" x2="117.25" y2="510.70" stroke="#e3202a" stroke-width="0.8"/>
<line x1="123.40" y1="505.50" x2="123.40" y2="510.70" stroke="#e3202a" stroke-width="0.8"/>
<line x1="121.70" y1="505.50" x2="125.10" y2="505.50" stroke="#e3202a" stroke-width="0.8"/>
<line x1="121.70" y1="510.70" x2="125.10" y2="510.70" stroke="#e3202a" stroke-width="0.8"/>
<line x1="131.25" y1="506.80" x2="131.25" y2="510.70" stroke="#e3202a" stroke-width="0.8"/>
<line x1="129.55" y1="506.80" x2="132.95" y2="506.80" stroke="#e3202a" stroke-width="0.8"/>
<line x1="129.55" y1="510.70" x2="132.95" y2="510.70" stroke="#e3202a" stroke-width="0.8"/>
<line x1="139.10" y1="505.50" x2="139.10" y2="510.70" stroke="#e3202a" stroke-width="0.8"/>
<line x1="137.40" y1="505.50" x2="140.80" y2="505.50" stroke="#e3202a" stroke-width="0.8"/>
<line x1="137.40" y1="510.70" x2="140.80" y2="510.70" stroke="#e3202a" stroke-width="0.8"/>
<line x1="146.95" y1="506.80" x2="146.95" y2="510.70" stroke="#e3202a" stroke-width="0.8"/>
<line x1="145.25" y1="506.80" x2="148.65" y2="506.80" stroke="#e3202a" stroke-width="0.8"/>
<line x1="145.25" y1="510.70" x2="148.65" y2="510.70" stroke="#e3202a" stroke-width="0.8"/>
<line x1="154.80" y1="505.50" x2="154.80" y2="510.70" stroke="#e3202a" stroke-width="0.8"/>
<line x1="153.10" y1="505.50" x2="156.50" y2="505.50" stroke="#e3202a" stroke-width="0.8"/>
<line x1="153.10" y1="510.70" x2="156.50" y2="510.70" stroke="#e3202a" stroke-width="0.8"/>
<line x1="162.65" y1="506.80" x2="162.65" y2="510.70" stroke="#e3202a" stroke-width="0.8"/>
<line x1="160.95" y1="506.80" x2="164.35" y2="506.80" stroke="#e3202a" stroke-width="0.8"/>
<line x1="160.95" y1="510.70" x2="164.35" y2="510.70" stroke="#e3202a" stroke-width="0.8"/>
<line x1="170.50" y1="501.61" x2="170.50" y2="511.35" stroke="#e3202a" stroke-width="0.8"/>
<line x1="168.80" y1="501.61" x2="172.20" y2="501.61" stroke="#e3202a" stroke-width="0.8"/>
<line x1="168.80" y1="511.35" x2="172.20" y2="511.35" stroke="#e3202a" stroke-width="0.8"/>
<polyline points="84.15,508.43 85.23,508.43 86.31,508.43 87.39,508.43 88.47,508.43 89.55,508.43 90.63,508.43 91.71,508.43 92.79,508.43 93.86,508.43 94.94,508.43 96.02,508.43 97.10,508.43 98.18,508.43 99.26,508.43 100.34,508.43 101.42,508.43 102.50,508.43 103.58,508.43 104.66,508.43 105.74,508.43 106.82,508.43 107.90,508.43 108.98,508.43 110.06,508.43 111.13,508.43 112.21,508.43 113.29,508.43 114.37,508.43 115.45,508.43 116.53,508.43 117.61,508.43 118.69,508.43 119.77,508.43 120.85,508.43 121.93,508.43 123.01,508.43 124.09,508.43 125.17,508.43 126.25,508.43 127.32,508.43 128.40,508.43 129.48,508.43 130.56,508.43 131.64,508.43 132.72,508.43 133.80,508.43 134.88,508.43 135.96,508.43 137.04,508.43 138.12,508.43 139.20,508.43 140.28,508.43 141.36,508.43 142.44,508.43 143.52,508.43 144.59,508.43 145.67,508.43 146.75,508.43 147.83,508.43 148.91,508.43 149.99,508.43 151.07,508.43 152.15,508.43 153.23,508.43 154.31,508.43 155.39,508.42 156.47,508.42 157.55,508.42 158.63,508.42 159.71,508.41 160.79,508.39 161.87,508.36 162.94,508.30 164.02,508.20 165.10,508.02 166.18,507.72 167.26,507.27 168.34,506.68 169.42,506.01 170.50,505.41" fill="none" stroke="#e3202a" stroke-width="1.2" stroke-linejoin="round"/>
<rect x="82.45" y="507.05" width="3.40" height="3.40" fill="#e3202a" stroke="none" stroke-width="0.6"/>
<rect x="98.15" y="506.40" width="3.40" height="3.40" fill="#e3202a" stroke="none" stroke-width="0.6"/>
<rect x="106.00" y="507.05" width="3.40" height="3.40" fill="#e3202a" stroke="none" stroke-width="0.6"/>
<rect x="113.85" y="507.05" width="3.40" height="3.40" fill="#e3202a" stroke="none" stroke-width="0.6"/>
<rect x="121.70" y="506.40" width="3.40" height="3.40" fill="#e3202a" stroke="none" stroke-width="0.6"/>
<rect x="129.55" y="507.05" width="3.40" height="3.40" fill="#e3202a" stroke="none" stroke-width="0.6"/>
<rect x="137.40" y="506.40" width="3.40" height="3.40" fill="#e3202a" stroke="none" stroke-width="0.6"/>
<rect x="145.25" y="507.05" width="3.40" height="3.40" fill="#e3202a" stroke="none" stroke-width="0.6"/>
<rect x="153.10" y="506.40" width="3.40" height="3.40" fill="#e3202a" stroke="none" stroke-width="0.6"/>
<rect x="160.95" y="507.05" width="3.40" height="3.40" fill="#e3202a" stroke="none" stroke-width="0.6"/>
<rect x="168.80" y="506.40" width="3.40" height="3.40" fill="#e3202a" stroke="none" stroke-width="0.6"/>
<line x1="60.60" y1="431.10" x2="60.60" y2="509.80" stroke="#0d0d0d" stroke-width="1.1"/>
<line x1="60.60" y1="509.40" x2="186.60" y2="509.40" stroke="#0d0d0d" stroke-width="1.1"/>
<line x1="57.60" y1="509.40" x2="60.60" y2="509.40" stroke="#0d0d0d" stroke-width="0.9"/>
<text x="55.80" y="512.03" font-size="7.3" text-anchor="end" font-weight="normal" fill="#222">0</text>
<line x1="57.60" y1="496.42" x2="60.60" y2="496.42" stroke="#0d0d0d" stroke-width="0.9"/>
<text x="55.80" y="499.04" font-size="7.3" text-anchor="end" font-weight="normal" fill="#222">20</text>
<line x1="57.60" y1="483.43" x2="60.60" y2="483.43" stroke="#0d0d0d" stroke-width="0.9"/>
<text x="55.80" y="486.06" font-size="7.3" text-anchor="end" font-weight="normal" fill="#222">40</text>
<line x1="57.60" y1="470.45" x2="60.60" y2="470.45" stroke="#0d0d0d" stroke-width="0.9"/>
<text x="55.80" y="473.08" font-size="7.3" text-anchor="end" font-weight="normal" fill="#222">60</text>
<line x1="57.60" y1="457.47" x2="60.60" y2="457.47" stroke="#0d0d0d" stroke-width="0.9"/>
<text x="55.80" y="460.09" font-size="7.3" text-anchor="end" font-weight="normal" fill="#222">80</text>
<line x1="57.60" y1="444.48" x2="60.60" y2="444.48" stroke="#0d0d0d" stroke-width="0.9"/>
<text x="55.80" y="447.11" font-size="7.3" text-anchor="end" font-weight="normal" fill="#222">100</text>
<line x1="57.60" y1="431.50" x2="60.60" y2="431.50" stroke="#0d0d0d" stroke-width="0.9"/>
<text x="55.80" y="434.13" font-size="7.3" text-anchor="end" font-weight="normal" fill="#222">120</text>
<line x1="60.60" y1="509.40" x2="60.60" y2="512.40" stroke="#0d0d0d" stroke-width="0.9"/>
<text x="60.60" y="519.03" font-size="6.2" text-anchor="middle" font-weight="normal" fill="#222">−12</text>
<line x1="92.00" y1="509.40" x2="92.00" y2="512.40" stroke="#0d0d0d" stroke-width="0.9"/>
<text x="92.00" y="519.03" font-size="6.2" text-anchor="middle" font-weight="normal" fill="#222">−10</text>
<line x1="123.40" y1="509.40" x2="123.40" y2="512.40" stroke="#0d0d0d" stroke-width="0.9"/>
<text x="123.40" y="519.03" font-size="6.2" text-anchor="middle" font-weight="normal" fill="#222">−8</text>
<line x1="154.80" y1="509.40" x2="154.80" y2="512.40" stroke="#0d0d0d" stroke-width="0.9"/>
<text x="154.80" y="519.03" font-size="6.2" text-anchor="middle" font-weight="normal" fill="#222">−6</text>
<line x1="186.20" y1="509.40" x2="186.20" y2="512.40" stroke="#0d0d0d" stroke-width="0.9"/>
<text x="186.20" y="519.03" font-size="6.2" text-anchor="middle" font-weight="normal" fill="#222">−4</text>
<text x="121.00" y="530.54" font-size="6.5" text-anchor="middle" font-weight="normal" fill="#222">Log (APG-2575) mol/L</text>
<text x="37.90" y="472.50" font-size="8.7" text-anchor="middle" font-weight="normal" fill="#222" transform="rotate(-90 37.90 472.50)">% Cytochrome c loss</text>
<line x1="320.23" y1="506.87" x2="320.23" y2="510.10" stroke="#f59a23" stroke-width="0.8"/>
<line x1="318.53" y1="506.87" x2="321.93" y2="506.87" stroke="#f59a23" stroke-width="0.8"/>
<line x1="318.53" y1="510.10" x2="321.93" y2="510.10" stroke="#f59a23" stroke-width="0.8"/>
<line x1="328.06" y1="506.87" x2="328.06" y2="510.10" stroke="#f59a23" stroke-width="0.8"/>
<line x1="326.36" y1="506.87" x2="329.76" y2="506.87" stroke="#f59a23" stroke-width="0.8"/>
<line x1="326.36" y1="510.10" x2="329.76" y2="510.10" stroke="#f59a23" stroke-width="0.8"/>
<line x1="335.89" y1="506.87" x2="335.89" y2="510.10" stroke="#f59a23" stroke-width="0.8"/>
<line x1="334.19" y1="506.87" x2="337.59" y2="506.87" stroke="#f59a23" stroke-width="0.8"/>
<line x1="334.19" y1="510.10" x2="337.59" y2="510.10" stroke="#f59a23" stroke-width="0.8"/>
<line x1="343.73" y1="506.87" x2="343.73" y2="510.10" stroke="#f59a23" stroke-width="0.8"/>
<line x1="342.03" y1="506.87" x2="345.43" y2="506.87" stroke="#f59a23" stroke-width="0.8"/>
<line x1="342.03" y1="510.10" x2="345.43" y2="510.10" stroke="#f59a23" stroke-width="0.8"/>
<line x1="351.56" y1="506.87" x2="351.56" y2="510.10" stroke="#f59a23" stroke-width="0.8"/>
<line x1="349.86" y1="506.87" x2="353.26" y2="506.87" stroke="#f59a23" stroke-width="0.8"/>
<line x1="349.86" y1="510.10" x2="353.26" y2="510.10" stroke="#f59a23" stroke-width="0.8"/>
<line x1="359.39" y1="506.87" x2="359.39" y2="510.10" stroke="#f59a23" stroke-width="0.8"/>
<line x1="357.69" y1="506.87" x2="361.09" y2="506.87" stroke="#f59a23" stroke-width="0.8"/>
<line x1="357.69" y1="510.10" x2="361.09" y2="510.10" stroke="#f59a23" stroke-width="0.8"/>
<line x1="367.22" y1="506.87" x2="367.22" y2="510.10" stroke="#f59a23" stroke-width="0.8"/>
<line x1="365.52" y1="506.87" x2="368.92" y2="506.87" stroke="#f59a23" stroke-width="0.8"/>
<line x1="365.52" y1="510.10" x2="368.92" y2="510.10" stroke="#f59a23" stroke-width="0.8"/>
<line x1="375.06" y1="506.87" x2="375.06" y2="510.10" stroke="#f59a23" stroke-width="0.8"/>
<line x1="373.36" y1="506.87" x2="376.76" y2="506.87" stroke="#f59a23" stroke-width="0.8"/>
<line x1="373.36" y1="510.10" x2="376.76" y2="510.10" stroke="#f59a23" stroke-width="0.8"/>
<line x1="382.89" y1="506.87" x2="382.89" y2="510.10" stroke="#f59a23" stroke-width="0.8"/>
<line x1="381.19" y1="506.87" x2="384.59" y2="506.87" stroke="#f59a23" stroke-width="0.8"/>
<line x1="381.19" y1="510.10" x2="384.59" y2="510.10" stroke="#f59a23" stroke-width="0.8"/>
<line x1="390.72" y1="506.87" x2="390.72" y2="510.10" stroke="#f59a23" stroke-width="0.8"/>
<line x1="389.02" y1="506.87" x2="392.42" y2="506.87" stroke="#f59a23" stroke-width="0.8"/>
<line x1="389.02" y1="510.10" x2="392.42" y2="510.10" stroke="#f59a23" stroke-width="0.8"/>
<line x1="398.55" y1="505.26" x2="398.55" y2="510.10" stroke="#f59a23" stroke-width="0.8"/>
<line x1="396.85" y1="505.26" x2="400.25" y2="505.26" stroke="#f59a23" stroke-width="0.8"/>
<line x1="396.85" y1="510.10" x2="400.25" y2="510.10" stroke="#f59a23" stroke-width="0.8"/>
<polyline points="320.23,508.49 321.21,508.49 322.19,508.49 323.17,508.49 324.15,508.49 325.13,508.49 326.10,508.49 327.08,508.49 328.06,508.49 329.04,508.49 330.02,508.49 331.00,508.49 331.98,508.49 332.96,508.49 333.94,508.49 334.92,508.49 335.89,508.49 336.87,508.49 337.85,508.49 338.83,508.49 339.81,508.49 340.79,508.49 341.77,508.49 342.75,508.49 343.73,508.49 344.71,508.49 345.69,508.49 346.66,508.49 347.64,508.49 348.62,508.49 349.60,508.49 350.58,508.49 351.56,508.49 352.54,508.49 353.52,508.49 354.50,508.49 355.48,508.49 356.46,508.49 357.43,508.49 358.41,508.49 359.39,508.49 360.37,508.49 361.35,508.49 362.33,508.49 363.31,508.49 364.29,508.49 365.27,508.49 366.25,508.49 367.22,508.49 368.20,508.49 369.18,508.49 370.16,508.49 371.14,508.49 372.12,508.49 373.10,508.49 374.08,508.49 375.06,508.49 376.04,508.49 377.02,508.49 377.99,508.49 378.97,508.49 379.95,508.49 380.93,508.49 381.91,508.49 382.89,508.49 383.87,508.49 384.85,508.49 385.83,508.49 386.81,508.49 387.79,508.49 388.76,508.49 389.74,508.49 390.72,508.49 391.70,508.49 392.68,508.49 393.66,508.49 394.64,508.49 395.62,508.49 396.60,508.49 397.58,508.49 398.55,508.49" fill="none" stroke="#f59a23" stroke-width="1.2" stroke-linejoin="round"/>
<path d="M320.23 506.59 L321.83 508.49 L320.23 510.39 L318.63 508.49 Z" fill="#f59a23"/>
<path d="M328.06 506.59 L329.66 508.49 L328.06 510.39 L326.46 508.49 Z" fill="#f59a23"/>
<path d="M335.89 506.59 L337.50 508.49 L335.89 510.39 L334.29 508.49 Z" fill="#f59a23"/>
<path d="M343.73 506.59 L345.33 508.49 L343.73 510.39 L342.13 508.49 Z" fill="#f59a23"/>
<path d="M351.56 506.59 L353.16 508.49 L351.56 510.39 L349.96 508.49 Z" fill="#f59a23"/>
<path d="M359.39 506.59 L360.99 508.49 L359.39 510.39 L357.79 508.49 Z" fill="#f59a23"/>
<path d="M367.22 506.59 L368.82 508.49 L367.22 510.39 L365.62 508.49 Z" fill="#f59a23"/>
<path d="M375.06 506.59 L376.66 508.49 L375.06 510.39 L373.46 508.49 Z" fill="#f59a23"/>
<path d="M382.89 506.59 L384.49 508.49 L382.89 510.39 L381.29 508.49 Z" fill="#f59a23"/>
<path d="M390.72 506.59 L392.32 508.49 L390.72 510.39 L389.12 508.49 Z" fill="#f59a23"/>
<path d="M398.55 505.78 L400.15 507.68 L398.55 509.58 L396.95 507.68 Z" fill="#f59a23"/>
<line x1="320.23" y1="506.87" x2="320.23" y2="510.10" stroke="#3fae3a" stroke-width="0.8"/>
<line x1="318.53" y1="506.87" x2="321.93" y2="506.87" stroke="#3fae3a" stroke-width="0.8"/>
<line x1="318.53" y1="510.10" x2="321.93" y2="510.10" stroke="#3fae3a" stroke-width="0.8"/>
<line x1="328.06" y1="506.87" x2="328.06" y2="510.10" stroke="#3fae3a" stroke-width="0.8"/>
<line x1="326.36" y1="506.87" x2="329.76" y2="506.87" stroke="#3fae3a" stroke-width="0.8"/>
<line x1="326.36" y1="510.10" x2="329.76" y2="510.10" stroke="#3fae3a" stroke-width="0.8"/>
<line x1="335.89" y1="506.87" x2="335.89" y2="510.10" stroke="#3fae3a" stroke-width="0.8"/>
<line x1="334.19" y1="506.87" x2="337.59" y2="506.87" stroke="#3fae3a" stroke-width="0.8"/>
<line x1="334.19" y1="510.10" x2="337.59" y2="510.10" stroke="#3fae3a" stroke-width="0.8"/>
<line x1="343.73" y1="506.87" x2="343.73" y2="510.10" stroke="#3fae3a" stroke-width="0.8"/>
<line x1="342.03" y1="506.87" x2="345.43" y2="506.87" stroke="#3fae3a" stroke-width="0.8"/>
<line x1="342.03" y1="510.10" x2="345.43" y2="510.10" stroke="#3fae3a" stroke-width="0.8"/>
<line x1="351.56" y1="505.26" x2="351.56" y2="510.10" stroke="#3fae3a" stroke-width="0.8"/>
<line x1="349.86" y1="505.26" x2="353.26" y2="505.26" stroke="#3fae3a" stroke-width="0.8"/>
<line x1="349.86" y1="510.10" x2="353.26" y2="510.10" stroke="#3fae3a" stroke-width="0.8"/>
<line x1="359.39" y1="479.43" x2="359.39" y2="500.42" stroke="#3fae3a" stroke-width="0.8"/>
<line x1="357.69" y1="479.43" x2="361.09" y2="479.43" stroke="#3fae3a" stroke-width="0.8"/>
<line x1="357.69" y1="500.42" x2="361.09" y2="500.42" stroke="#3fae3a" stroke-width="0.8"/>
<line x1="367.22" y1="466.52" x2="367.22" y2="472.98" stroke="#3fae3a" stroke-width="0.8"/>
<line x1="365.52" y1="466.52" x2="368.92" y2="466.52" stroke="#3fae3a" stroke-width="0.8"/>
<line x1="365.52" y1="472.98" x2="368.92" y2="472.98" stroke="#3fae3a" stroke-width="0.8"/>
<line x1="375.06" y1="447.96" x2="375.06" y2="462.49" stroke="#3fae3a" stroke-width="0.8"/>
<line x1="373.36" y1="447.96" x2="376.76" y2="447.96" stroke="#3fae3a" stroke-width="0.8"/>
<line x1="373.36" y1="462.49" x2="376.76" y2="462.49" stroke="#3fae3a" stroke-width="0.8"/>
<line x1="382.89" y1="443.93" x2="382.89" y2="460.07" stroke="#3fae3a" stroke-width="0.8"/>
<line x1="381.19" y1="443.93" x2="384.59" y2="443.93" stroke="#3fae3a" stroke-width="0.8"/>
<line x1="381.19" y1="460.07" x2="384.59" y2="460.07" stroke="#3fae3a" stroke-width="0.8"/>
<line x1="390.72" y1="443.12" x2="390.72" y2="460.87" stroke="#3fae3a" stroke-width="0.8"/>
<line x1="389.02" y1="443.12" x2="392.42" y2="443.12" stroke="#3fae3a" stroke-width="0.8"/>
<line x1="389.02" y1="460.87" x2="392.42" y2="460.87" stroke="#3fae3a" stroke-width="0.8"/>
<line x1="398.55" y1="443.12" x2="398.55" y2="462.49" stroke="#3fae3a" stroke-width="0.8"/>
<line x1="396.85" y1="443.12" x2="400.25" y2="443.12" stroke="#3fae3a" stroke-width="0.8"/>
<line x1="396.85" y1="462.49" x2="400.25" y2="462.49" stroke="#3fae3a" stroke-width="0.8"/>
<polyline points="320.23,508.49 321.21,508.49 322.19,508.49 323.17,508.49 324.15,508.48 325.13,508.48 326.10,508.48 327.08,508.48 328.06,508.48 329.04,508.48 330.02,508.48 331.00,508.48 331.98,508.48 332.96,508.47 333.94,508.47 334.92,508.47 335.89,508.46 336.87,508.45 337.85,508.44 338.83,508.42 339.81,508.41 340.79,508.38 341.77,508.35 342.75,508.30 343.73,508.25 344.71,508.17 345.69,508.07 346.66,507.95 347.64,507.78 348.62,507.56 349.60,507.27 350.58,506.90 351.56,506.43 352.54,505.81 353.52,505.02 354.50,504.01 355.48,502.75 356.46,501.17 357.43,499.25 358.41,496.93 359.39,494.21 360.37,491.09 361.35,487.63 362.33,483.90 363.31,480.04 364.29,476.17 365.27,472.45 366.25,468.98 367.22,465.87 368.20,463.15 369.18,460.83 370.16,458.90 371.14,457.33 372.12,456.07 373.10,455.06 374.08,454.27 375.06,453.65 376.04,453.17 377.02,452.80 377.99,452.52 378.97,452.30 379.95,452.13 380.93,452.00 381.91,451.91 382.89,451.83 383.87,451.77 384.85,451.73 385.83,451.70 386.81,451.67 387.79,451.65 388.76,451.64 389.74,451.63 390.72,451.62 391.70,451.61 392.68,451.61 393.66,451.60 394.64,451.60 395.62,451.60 396.60,451.60 397.58,451.60 398.55,451.60" fill="none" stroke="#3fae3a" stroke-width="1.2" stroke-linejoin="round"/>
<path d="M320.23 506.49 L322.13 509.79 L318.33 509.79 Z" fill="#3fae3a"/>
<path d="M328.06 506.49 L329.96 509.79 L326.16 509.79 Z" fill="#3fae3a"/>
<path d="M335.89 506.49 L337.79 509.79 L334.00 509.79 Z" fill="#3fae3a"/>
<path d="M343.73 506.49 L345.63 509.79 L341.83 509.79 Z" fill="#3fae3a"/>
<path d="M351.56 505.68 L353.46 508.98 L349.66 508.98 Z" fill="#3fae3a"/>
<path d="M359.39 487.93 L361.29 491.23 L357.49 491.23 Z" fill="#3fae3a"/>
<path d="M367.22 467.75 L369.12 471.05 L365.32 471.05 Z" fill="#3fae3a"/>
<path d="M375.06 453.22 L376.96 456.52 L373.16 456.52 Z" fill="#3fae3a"/>
<path d="M382.89 450.00 L384.79 453.30 L380.99 453.30 Z" fill="#3fae3a"/>
<path d="M390.72 450.00 L392.62 453.30 L388.82 453.30 Z" fill="#3fae3a"/>
<path d="M398.55 450.80 L400.45 454.10 L396.65 454.10 Z" fill="#3fae3a"/>
<line x1="320.23" y1="502.03" x2="320.23" y2="508.49" stroke="#8e3a9d" stroke-width="0.8"/>
<line x1="318.53" y1="502.03" x2="321.93" y2="502.03" stroke="#8e3a9d" stroke-width="0.8"/>
<line x1="318.53" y1="508.49" x2="321.93" y2="508.49" stroke="#8e3a9d" stroke-width="0.8"/>
<line x1="328.06" y1="501.22" x2="328.06" y2="509.29" stroke="#8e3a9d" stroke-width="0.8"/>
<line x1="326.36" y1="501.22" x2="329.76" y2="501.22" stroke="#8e3a9d" stroke-width="0.8"/>
<line x1="326.36" y1="509.29" x2="329.76" y2="509.29" stroke="#8e3a9d" stroke-width="0.8"/>
<line x1="335.89" y1="502.03" x2="335.89" y2="508.49" stroke="#8e3a9d" stroke-width="0.8"/>
<line x1="334.19" y1="502.03" x2="337.59" y2="502.03" stroke="#8e3a9d" stroke-width="0.8"/>
<line x1="334.19" y1="508.49" x2="337.59" y2="508.49" stroke="#8e3a9d" stroke-width="0.8"/>
<line x1="343.73" y1="502.03" x2="343.73" y2="508.49" stroke="#8e3a9d" stroke-width="0.8"/>
<line x1="342.03" y1="502.03" x2="345.43" y2="502.03" stroke="#8e3a9d" stroke-width="0.8"/>
<line x1="342.03" y1="508.49" x2="345.43" y2="508.49" stroke="#8e3a9d" stroke-width="0.8"/>
<line x1="351.56" y1="502.03" x2="351.56" y2="508.49" stroke="#8e3a9d" stroke-width="0.8"/>
<line x1="349.86" y1="502.03" x2="353.26" y2="502.03" stroke="#8e3a9d" stroke-width="0.8"/>
<line x1="349.86" y1="508.49" x2="353.26" y2="508.49" stroke="#8e3a9d" stroke-width="0.8"/>
<line x1="359.39" y1="502.03" x2="359.39" y2="508.49" stroke="#8e3a9d" stroke-width="0.8"/>
<line x1="357.69" y1="502.03" x2="361.09" y2="502.03" stroke="#8e3a9d" stroke-width="0.8"/>
<line x1="357.69" y1="508.49" x2="361.09" y2="508.49" stroke="#8e3a9d" stroke-width="0.8"/>
<line x1="367.22" y1="502.03" x2="367.22" y2="508.49" stroke="#8e3a9d" stroke-width="0.8"/>
<line x1="365.52" y1="502.03" x2="368.92" y2="502.03" stroke="#8e3a9d" stroke-width="0.8"/>
<line x1="365.52" y1="508.49" x2="368.92" y2="508.49" stroke="#8e3a9d" stroke-width="0.8"/>
<line x1="375.06" y1="501.22" x2="375.06" y2="509.29" stroke="#8e3a9d" stroke-width="0.8"/>
<line x1="373.36" y1="501.22" x2="376.76" y2="501.22" stroke="#8e3a9d" stroke-width="0.8"/>
<line x1="373.36" y1="509.29" x2="376.76" y2="509.29" stroke="#8e3a9d" stroke-width="0.8"/>
<line x1="382.89" y1="502.03" x2="382.89" y2="508.49" stroke="#8e3a9d" stroke-width="0.8"/>
<line x1="381.19" y1="502.03" x2="384.59" y2="502.03" stroke="#8e3a9d" stroke-width="0.8"/>
<line x1="381.19" y1="508.49" x2="384.59" y2="508.49" stroke="#8e3a9d" stroke-width="0.8"/>
<line x1="390.72" y1="500.42" x2="390.72" y2="508.49" stroke="#8e3a9d" stroke-width="0.8"/>
<line x1="389.02" y1="500.42" x2="392.42" y2="500.42" stroke="#8e3a9d" stroke-width="0.8"/>
<line x1="389.02" y1="508.49" x2="392.42" y2="508.49" stroke="#8e3a9d" stroke-width="0.8"/>
<polyline points="320.23,505.26 321.21,505.26 322.19,505.26 323.17,505.26 324.15,505.26 325.13,505.26 326.10,505.26 327.08,505.26 328.06,505.26 329.04,505.26 330.02,505.26 331.00,505.26 331.98,505.26 332.96,505.26 333.94,505.26 334.92,505.26 335.89,505.26 336.87,505.26 337.85,505.26 338.83,505.26 339.81,505.26 340.79,505.26 341.77,505.26 342.75,505.26 343.73,505.26 344.71,505.26 345.69,505.26 346.66,505.26 347.64,505.26 348.62,505.26 349.60,505.26 350.58,505.26 351.56,505.26 352.54,505.26 353.52,505.26 354.50,505.26 355.48,505.26 356.46,505.26 357.43,505.26 358.41,505.26 359.39,505.26 360.37,505.26 361.35,505.26 362.33,505.26 363.31,505.26 364.29,505.26 365.27,505.26 366.25,505.26 367.22,505.26 368.20,505.26 369.18,505.26 370.16,505.26 371.14,505.26 372.12,505.26 373.10,505.26 374.08,505.26 375.06,505.26 376.04,505.26 377.02,505.26 377.99,505.26 378.97,505.26 379.95,505.26 380.93,505.26 381.91,505.26 382.89,505.25 383.87,505.25 384.85,505.24 385.83,505.23 386.81,505.21 387.79,505.17 388.76,505.11 389.74,505.00 390.72,504.79 391.70,504.44 392.68,503.82 393.66,502.77 394.64,501.00 395.62,498.19 396.60,494.01 397.58,488.41 398.55,481.86" fill="none" stroke="#8e3a9d" stroke-width="1.2" stroke-linejoin="round"/>
<path d="M320.23 507.26 L322.13 503.96 L318.33 503.96 Z" fill="#8e3a9d"/>
<path d="M328.06 507.26 L329.96 503.96 L326.16 503.96 Z" fill="#8e3a9d"/>
<path d="M335.89 507.26 L337.79 503.96 L334.00 503.96 Z" fill="#8e3a9d"/>
<path d="M343.73 507.26 L345.63 503.96 L341.83 503.96 Z" fill="#8e3a9d"/>
<path d="M351.56 507.26 L353.46 503.96 L349.66 503.96 Z" fill="#8e3a9d"/>
<path d="M359.39 507.26 L361.29 503.96 L357.49 503.96 Z" fill="#8e3a9d"/>
<path d="M367.22 507.26 L369.12 503.96 L365.32 503.96 Z" fill="#8e3a9d"/>
<path d="M375.06 507.26 L376.96 503.96 L373.16 503.96 Z" fill="#8e3a9d"/>
<path d="M382.89 507.26 L384.79 503.96 L380.99 503.96 Z" fill="#8e3a9d"/>
<path d="M390.72 506.45 L392.62 503.15 L388.82 503.15 Z" fill="#8e3a9d"/>
<path d="M398.55 483.86 L400.45 480.56 L396.65 480.56 Z" fill="#8e3a9d"/>
<line x1="320.23" y1="501.22" x2="320.23" y2="509.29" stroke="#e3202a" stroke-width="0.8"/>
<line x1="318.53" y1="501.22" x2="321.93" y2="501.22" stroke="#e3202a" stroke-width="0.8"/>
<line x1="318.53" y1="509.29" x2="321.93" y2="509.29" stroke="#e3202a" stroke-width="0.8"/>
<line x1="328.06" y1="499.61" x2="328.06" y2="509.29" stroke="#e3202a" stroke-width="0.8"/>
<line x1="326.36" y1="499.61" x2="329.76" y2="499.61" stroke="#e3202a" stroke-width="0.8"/>
<line x1="326.36" y1="509.29" x2="329.76" y2="509.29" stroke="#e3202a" stroke-width="0.8"/>
<line x1="335.89" y1="501.22" x2="335.89" y2="509.29" stroke="#e3202a" stroke-width="0.8"/>
<line x1="334.19" y1="501.22" x2="337.59" y2="501.22" stroke="#e3202a" stroke-width="0.8"/>
<line x1="334.19" y1="509.29" x2="337.59" y2="509.29" stroke="#e3202a" stroke-width="0.8"/>
<line x1="343.73" y1="500.42" x2="343.73" y2="510.10" stroke="#e3202a" stroke-width="0.8"/>
<line x1="342.03" y1="500.42" x2="345.43" y2="500.42" stroke="#e3202a" stroke-width="0.8"/>
<line x1="342.03" y1="510.10" x2="345.43" y2="510.10" stroke="#e3202a" stroke-width="0.8"/>
<line x1="351.56" y1="502.03" x2="351.56" y2="508.49" stroke="#e3202a" stroke-width="0.8"/>
<line x1="349.86" y1="502.03" x2="353.26" y2="502.03" stroke="#e3202a" stroke-width="0.8"/>
<line x1="349.86" y1="508.49" x2="353.26" y2="508.49" stroke="#e3202a" stroke-width="0.8"/>
<line x1="359.39" y1="501.22" x2="359.39" y2="509.29" stroke="#e3202a" stroke-width="0.8"/>
<line x1="357.69" y1="501.22" x2="361.09" y2="501.22" stroke="#e3202a" stroke-width="0.8"/>
<line x1="357.69" y1="509.29" x2="361.09" y2="509.29" stroke="#e3202a" stroke-width="0.8"/>
<line x1="367.22" y1="502.03" x2="367.22" y2="508.49" stroke="#e3202a" stroke-width="0.8"/>
<line x1="365.52" y1="502.03" x2="368.92" y2="502.03" stroke="#e3202a" stroke-width="0.8"/>
<line x1="365.52" y1="508.49" x2="368.92" y2="508.49" stroke="#e3202a" stroke-width="0.8"/>
<line x1="375.06" y1="498.80" x2="375.06" y2="510.10" stroke="#e3202a" stroke-width="0.8"/>
<line x1="373.36" y1="498.80" x2="376.76" y2="498.80" stroke="#e3202a" stroke-width="0.8"/>
<line x1="373.36" y1="510.10" x2="376.76" y2="510.10" stroke="#e3202a" stroke-width="0.8"/>
<line x1="382.89" y1="501.22" x2="382.89" y2="509.29" stroke="#e3202a" stroke-width="0.8"/>
<line x1="381.19" y1="501.22" x2="384.59" y2="501.22" stroke="#e3202a" stroke-width="0.8"/>
<line x1="381.19" y1="509.29" x2="384.59" y2="509.29" stroke="#e3202a" stroke-width="0.8"/>
<line x1="390.72" y1="497.19" x2="390.72" y2="508.49" stroke="#e3202a" stroke-width="0.8"/>
<line x1="389.02" y1="497.19" x2="392.42" y2="497.19" stroke="#e3202a" stroke-width="0.8"/>
<line x1="389.02" y1="508.49" x2="392.42" y2="508.49" stroke="#e3202a" stroke-width="0.8"/>
<line x1="398.55" y1="485.89" x2="398.55" y2="500.42" stroke="#e3202a" stroke-width="0.8"/>
<line x1="396.85" y1="485.89" x2="400.25" y2="485.89" stroke="#e3202a" stroke-width="0.8"/>
<line x1="396.85" y1="500.42" x2="400.25" y2="500.42" stroke="#e3202a" stroke-width="0.8"/>
<polyline points="320.23,505.66 321.21,505.66 322.19,505.66 323.17,505.66 324.15,505.66 325.13,505.66 326.10,505.66 327.08,505.66 328.06,505.66 329.04,505.66 330.02,505.66 331.00,505.66 331.98,505.66 332.96,505.66 333.94,505.66 334.92,505.66 335.89,505.66 336.87,505.66 337.85,505.66 338.83,505.66 339.81,505.66 340.79,505.66 341.77,505.66 342.75,505.66 343.73,505.66 344.71,505.66 345.69,505.66 346.66,505.66 347.64,505.66 348.62,505.66 349.60,505.66 350.58,505.66 351.56,505.66 352.54,505.66 353.52,505.66 354.50,505.66 355.48,505.66 356.46,505.66 357.43,505.66 358.41,505.66 359.39,505.66 360.37,505.66 361.35,505.66 362.33,505.66 363.31,505.66 364.29,505.66 365.27,505.66 366.25,505.66 367.22,505.66 368.20,505.66 369.18,505.66 370.16,505.66 371.14,505.66 372.12,505.66 373.10,505.66 374.08,505.66 375.06,505.66 376.04,505.66 377.02,505.66 377.99,505.66 378.97,505.66 379.95,505.66 380.93,505.66 381.91,505.66 382.89,505.66 383.87,505.66 384.85,505.65 385.83,505.65 386.81,505.64 387.79,505.62 388.76,505.58 389.74,505.52 390.72,505.41 391.70,505.22 392.68,504.88 393.66,504.31 394.64,503.35 395.62,501.82 396.60,499.55 397.58,496.51 398.55,492.95" fill="none" stroke="#e3202a" stroke-width="1.2" stroke-linejoin="round"/>
<rect x="318.53" y="503.56" width="3.40" height="3.40" fill="#e3202a" stroke="none" stroke-width="0.6"/>
<rect x="326.36" y="502.75" width="3.40" height="3.40" fill="#e3202a" stroke="none" stroke-width="0.6"/>
<rect x="334.19" y="503.56" width="3.40" height="3.40" fill="#e3202a" stroke="none" stroke-width="0.6"/>
<rect x="342.03" y="503.56" width="3.40" height="3.40" fill="#e3202a" stroke="none" stroke-width="0.6"/>
<rect x="349.86" y="503.56" width="3.40" height="3.40" fill="#e3202a" stroke="none" stroke-width="0.6"/>
<rect x="357.69" y="503.56" width="3.40" height="3.40" fill="#e3202a" stroke="none" stroke-width="0.6"/>
<rect x="365.52" y="503.56" width="3.40" height="3.40" fill="#e3202a" stroke="none" stroke-width="0.6"/>
<rect x="373.36" y="502.75" width="3.40" height="3.40" fill="#e3202a" stroke="none" stroke-width="0.6"/>
<rect x="381.19" y="503.56" width="3.40" height="3.40" fill="#e3202a" stroke="none" stroke-width="0.6"/>
<rect x="389.02" y="501.14" width="3.40" height="3.40" fill="#e3202a" stroke="none" stroke-width="0.6"/>
<rect x="396.85" y="491.45" width="3.40" height="3.40" fill="#e3202a" stroke="none" stroke-width="0.6"/>
<line x1="320.23" y1="504.45" x2="320.23" y2="509.29" stroke="#2a3b97" stroke-width="0.8"/>
<line x1="318.53" y1="504.45" x2="321.93" y2="504.45" stroke="#2a3b97" stroke-width="0.8"/>
<line x1="318.53" y1="509.29" x2="321.93" y2="509.29" stroke="#2a3b97" stroke-width="0.8"/>
<line x1="328.06" y1="504.45" x2="328.06" y2="509.29" stroke="#2a3b97" stroke-width="0.8"/>
<line x1="326.36" y1="504.45" x2="329.76" y2="504.45" stroke="#2a3b97" stroke-width="0.8"/>
<line x1="326.36" y1="509.29" x2="329.76" y2="509.29" stroke="#2a3b97" stroke-width="0.8"/>
<line x1="335.89" y1="504.45" x2="335.89" y2="509.29" stroke="#2a3b97" stroke-width="0.8"/>
<line x1="334.19" y1="504.45" x2="337.59" y2="504.45" stroke="#2a3b97" stroke-width="0.8"/>
<line x1="334.19" y1="509.29" x2="337.59" y2="509.29" stroke="#2a3b97" stroke-width="0.8"/>
<line x1="343.73" y1="504.45" x2="343.73" y2="509.29" stroke="#2a3b97" stroke-width="0.8"/>
<line x1="342.03" y1="504.45" x2="345.43" y2="504.45" stroke="#2a3b97" stroke-width="0.8"/>
<line x1="342.03" y1="509.29" x2="345.43" y2="509.29" stroke="#2a3b97" stroke-width="0.8"/>
<line x1="351.56" y1="504.45" x2="351.56" y2="509.29" stroke="#2a3b97" stroke-width="0.8"/>
<line x1="349.86" y1="504.45" x2="353.26" y2="504.45" stroke="#2a3b97" stroke-width="0.8"/>
<line x1="349.86" y1="509.29" x2="353.26" y2="509.29" stroke="#2a3b97" stroke-width="0.8"/>
<line x1="359.39" y1="504.45" x2="359.39" y2="509.29" stroke="#2a3b97" stroke-width="0.8"/>
<line x1="357.69" y1="504.45" x2="361.09" y2="504.45" stroke="#2a3b97" stroke-width="0.8"/>
<line x1="357.69" y1="509.29" x2="361.09" y2="509.29" stroke="#2a3b97" stroke-width="0.8"/>
<line x1="367.22" y1="504.45" x2="367.22" y2="509.29" stroke="#2a3b97" stroke-width="0.8"/>
<line x1="365.52" y1="504.45" x2="368.92" y2="504.45" stroke="#2a3b97" stroke-width="0.8"/>
<line x1="365.52" y1="509.29" x2="368.92" y2="509.29" stroke="#2a3b97" stroke-width="0.8"/>
<line x1="375.06" y1="503.64" x2="375.06" y2="510.10" stroke="#2a3b97" stroke-width="0.8"/>
<line x1="373.36" y1="503.64" x2="376.76" y2="503.64" stroke="#2a3b97" stroke-width="0.8"/>
<line x1="373.36" y1="510.10" x2="376.76" y2="510.10" stroke="#2a3b97" stroke-width="0.8"/>
<line x1="382.89" y1="504.45" x2="382.89" y2="509.29" stroke="#2a3b97" stroke-width="0.8"/>
<line x1="381.19" y1="504.45" x2="384.59" y2="504.45" stroke="#2a3b97" stroke-width="0.8"/>
<line x1="381.19" y1="509.29" x2="384.59" y2="509.29" stroke="#2a3b97" stroke-width="0.8"/>
<line x1="390.72" y1="504.45" x2="390.72" y2="509.29" stroke="#2a3b97" stroke-width="0.8"/>
<line x1="389.02" y1="504.45" x2="392.42" y2="504.45" stroke="#2a3b97" stroke-width="0.8"/>
<line x1="389.02" y1="509.29" x2="392.42" y2="509.29" stroke="#2a3b97" stroke-width="0.8"/>
<line x1="398.55" y1="502.03" x2="398.55" y2="508.49" stroke="#2a3b97" stroke-width="0.8"/>
<line x1="396.85" y1="502.03" x2="400.25" y2="502.03" stroke="#2a3b97" stroke-width="0.8"/>
<line x1="396.85" y1="508.49" x2="400.25" y2="508.49" stroke="#2a3b97" stroke-width="0.8"/>
<polyline points="320.23,506.87 321.21,506.87 322.19,506.87 323.17,506.87 324.15,506.87 325.13,506.87 326.10,506.87 327.08,506.87 328.06,506.87 329.04,506.87 330.02,506.87 331.00,506.87 331.98,506.87 332.96,506.87 333.94,506.87 334.92,506.87 335.89,506.87 336.87,506.87 337.85,506.87 338.83,506.87 339.81,506.87 340.79,506.87 341.77,506.87 342.75,506.87 343.73,506.87 344.71,506.87 345.69,506.87 346.66,506.87 347.64,506.87 348.62,506.87 349.60,506.87 350.58,506.87 351.56,506.87 352.54,506.87 353.52,506.87 354.50,506.87 355.48,506.87 356.46,506.87 357.43,506.87 358.41,506.87 359.39,506.87 360.37,506.87 361.35,506.87 362.33,506.87 363.31,506.87 364.29,506.87 365.27,506.87 366.25,506.87 367.22,506.87 368.20,506.87 369.18,506.87 370.16,506.87 371.14,506.87 372.12,506.87 373.10,506.87 374.08,506.87 375.06,506.87 376.04,506.87 377.02,506.87 377.99,506.86 378.97,506.86 379.95,506.86 380.93,506.86 381.91,506.86 382.89,506.86 383.87,506.86 384.85,506.85 385.83,506.85 386.81,506.85 387.79,506.84 388.76,506.84 389.74,506.84 390.72,506.83 391.70,506.83 392.68,506.82 393.66,506.82 394.64,506.81 395.62,506.81 396.60,506.80 397.58,506.80 398.55,506.79" fill="none" stroke="#2a3b97" stroke-width="1.2" stroke-linejoin="round"/>
<circle cx="320.23" cy="506.87" r="1.8" fill="#2a3b97"/>
<circle cx="328.06" cy="506.87" r="1.8" fill="#2a3b97"/>
<circle cx="335.89" cy="506.87" r="1.8" fill="#2a3b97"/>
<circle cx="343.73" cy="506.87" r="1.8" fill="#2a3b97"/>
<circle cx="351.56" cy="506.87" r="1.8" fill="#2a3b97"/>
<circle cx="359.39" cy="506.87" r="1.8" fill="#2a3b97"/>
<circle cx="367.22" cy="506.87" r="1.8" fill="#2a3b97"/>
<circle cx="375.06" cy="506.87" r="1.8" fill="#2a3b97"/>
<circle cx="382.89" cy="506.87" r="1.8" fill="#2a3b97"/>
<circle cx="390.72" cy="506.87" r="1.8" fill="#2a3b97"/>
<circle cx="398.55" cy="505.26" r="1.8" fill="#2a3b97"/>
<line x1="288.90" y1="429.00" x2="288.90" y2="510.50" stroke="#0d0d0d" stroke-width="1.1"/>
<line x1="288.90" y1="510.10" x2="414.62" y2="510.10" stroke="#0d0d0d" stroke-width="1.1"/>
<line x1="285.90" y1="510.10" x2="288.90" y2="510.10" stroke="#0d0d0d" stroke-width="0.9"/>
<text x="284.10" y="512.73" font-size="7.3" text-anchor="end" font-weight="normal" fill="#222">0</text>
<line x1="285.90" y1="493.96" x2="288.90" y2="493.96" stroke="#0d0d0d" stroke-width="0.9"/>
<text x="284.10" y="496.59" font-size="7.3" text-anchor="end" font-weight="normal" fill="#222">20</text>
<line x1="285.90" y1="477.82" x2="288.90" y2="477.82" stroke="#0d0d0d" stroke-width="0.9"/>
<text x="284.10" y="480.45" font-size="7.3" text-anchor="end" font-weight="normal" fill="#222">40</text>
<line x1="285.90" y1="461.68" x2="288.90" y2="461.68" stroke="#0d0d0d" stroke-width="0.9"/>
<text x="284.10" y="464.31" font-size="7.3" text-anchor="end" font-weight="normal" fill="#222">60</text>
<line x1="285.90" y1="445.54" x2="288.90" y2="445.54" stroke="#0d0d0d" stroke-width="0.9"/>
<text x="284.10" y="448.17" font-size="7.3" text-anchor="end" font-weight="normal" fill="#222">80</text>
<line x1="285.90" y1="429.40" x2="288.90" y2="429.40" stroke="#0d0d0d" stroke-width="0.9"/>
<text x="284.10" y="432.03" font-size="7.3" text-anchor="end" font-weight="normal" fill="#222">100</text>
<line x1="288.90" y1="510.10" x2="288.90" y2="513.10" stroke="#0d0d0d" stroke-width="0.9"/>
<text x="288.90" y="519.03" font-size="6.2" text-anchor="middle" font-weight="normal" fill="#222">−12</text>
<line x1="320.23" y1="510.10" x2="320.23" y2="513.10" stroke="#0d0d0d" stroke-width="0.9"/>
<text x="320.23" y="519.03" font-size="6.2" text-anchor="middle" font-weight="normal" fill="#222">−10</text>
<line x1="351.56" y1="510.10" x2="351.56" y2="513.10" stroke="#0d0d0d" stroke-width="0.9"/>
<text x="351.56" y="519.03" font-size="6.2" text-anchor="middle" font-weight="normal" fill="#222">−8</text>
<line x1="382.89" y1="510.10" x2="382.89" y2="513.10" stroke="#0d0d0d" stroke-width="0.9"/>
<text x="382.89" y="519.03" font-size="6.2" text-anchor="middle" font-weight="normal" fill="#222">−6</text>
<line x1="414.22" y1="510.10" x2="414.22" y2="513.10" stroke="#0d0d0d" stroke-width="0.9"/>
<text x="414.22" y="519.03" font-size="6.2" text-anchor="middle" font-weight="normal" fill="#222">−4</text>
<text x="347.50" y="529.74" font-size="6.5" text-anchor="middle" font-weight="normal" fill="#222">Log (APG-2575) mol/L</text>
<text x="255.40" y="474.50" font-size="8.7" text-anchor="middle" font-weight="normal" fill="#222" transform="rotate(-90 255.40 474.50)">% Apoptotic cells</text>
<text x="264.60" y="474.50" font-size="8.7" text-anchor="middle" font-weight="normal" fill="#222" transform="rotate(-90 264.60 474.50)">(annexin V+)</text>
<line x1="419.60" y1="434.20" x2="429.20" y2="434.20" stroke="#3fae3a" stroke-width="0.8"/>
<path d="M424.40 432.20 L426.30 435.50 L422.50 435.50 Z" fill="#3fae3a"/>
<text x="432.60" y="436.50" font-size="6.4" text-anchor="start" font-weight="normal" fill="#222">O-BCL2</text>
<line x1="419.60" y1="447.60" x2="429.20" y2="447.60" stroke="#2a3b97" stroke-width="0.8"/>
<circle cx="424.40" cy="447.60" r="1.8" fill="#2a3b97"/>
<text x="432.60" y="449.90" font-size="6.4" text-anchor="start" font-weight="normal" fill="#222">O-BCLXL</text>
<line x1="419.60" y1="461.00" x2="429.20" y2="461.00" stroke="#e3202a" stroke-width="0.8"/>
<rect x="422.70" y="459.30" width="3.40" height="3.40" fill="#e3202a" stroke="none" stroke-width="0.6"/>
<text x="432.60" y="463.30" font-size="6.4" text-anchor="start" font-weight="normal" fill="#222">O-MCL1</text>
<line x1="419.60" y1="474.20" x2="429.20" y2="474.20" stroke="#8e3a9d" stroke-width="0.8"/>
<path d="M424.40 476.20 L426.30 472.90 L422.50 472.90 Z" fill="#8e3a9d"/>
<text x="432.60" y="476.50" font-size="6.4" text-anchor="start" font-weight="normal" fill="#222">O-BFL1</text>
<line x1="419.60" y1="487.20" x2="429.20" y2="487.20" stroke="#f59a23" stroke-width="0.8"/>
<path d="M424.40 485.30 L426.00 487.20 L424.40 489.10 L422.80 487.20 Z" fill="#f59a23"/>
<text x="432.60" y="489.50" font-size="6.4" text-anchor="start" font-weight="normal" fill="#222">O-DKO</text>
</svg>
</body>
</html>
